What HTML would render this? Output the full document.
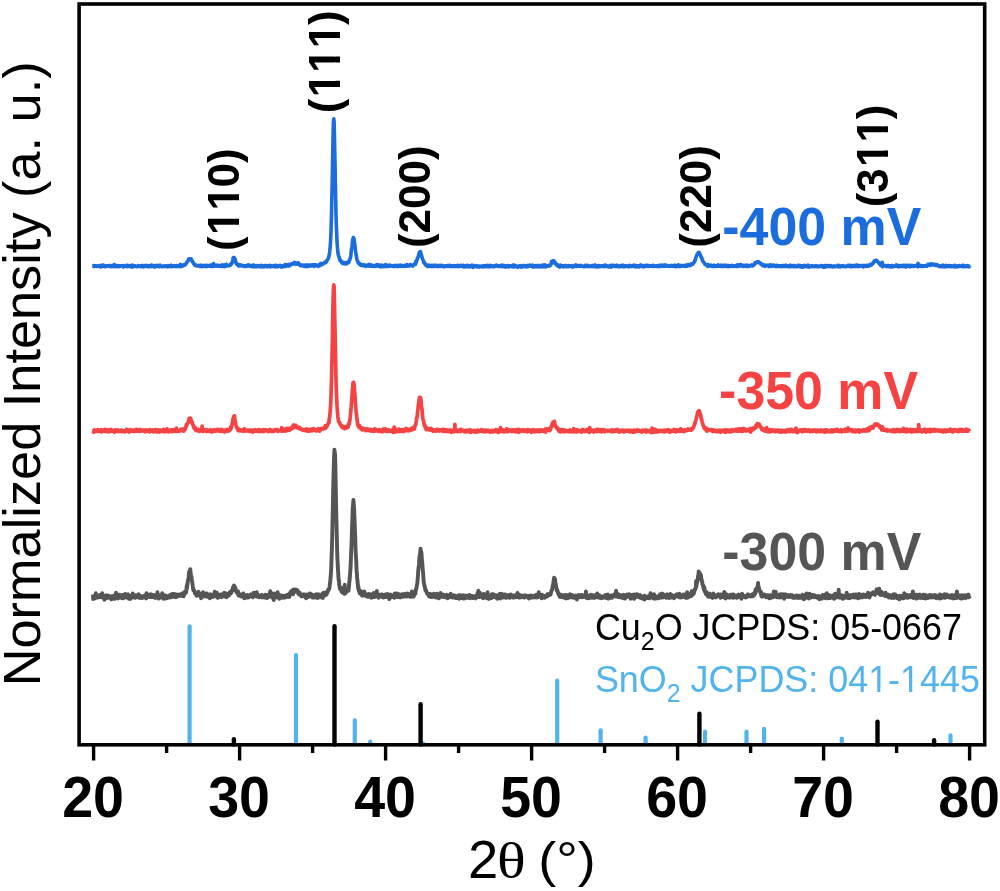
<!DOCTYPE html>
<html><head><meta charset="utf-8"><style>
html,body{margin:0;padding:0;background:#fff;}
svg{display:block;}
svg{font-family:"Liberation Sans",Arial,sans-serif;font-kerning:none;}
</style></head><body>
<svg width="1000" height="891" viewBox="0 0 1000 891">
<rect width="1000" height="891" fill="#fff"/>
<polyline fill="none" stroke="#1b6cdd" stroke-width="3.6" stroke-linejoin="round" points="92.9,265.9 93.2,265.7 93.5,265.9 93.8,266.6 94.2,265.7 94.5,265.9 94.8,266.3 95.1,265.8 95.4,265.9 95.8,265.9 96.1,266.1 96.4,265.8 96.7,266.4 97.0,266.1 97.4,266.2 97.7,265.8 98.0,266.0 98.3,266.1 98.7,266.3 99.0,266.1 99.3,266.0 99.6,266.1 99.9,265.5 100.3,265.6 100.6,267.1 100.9,266.8 101.2,266.1 101.5,266.2 101.9,265.9 102.2,265.9 102.5,265.1 102.8,266.4 103.1,266.1 103.5,265.1 103.8,265.7 104.1,265.7 104.4,266.1 104.8,266.6 105.1,265.9 105.4,265.9 105.7,266.5 106.0,266.2 106.4,266.0 106.7,266.3 107.0,266.0 107.3,265.9 107.6,266.0 108.0,266.2 108.3,265.8 108.6,265.7 108.9,265.9 109.3,266.3 109.6,265.7 109.9,266.2 110.2,265.7 110.5,266.4 110.9,265.6 111.2,266.0 111.5,266.5 111.8,266.1 112.1,265.9 112.5,265.9 112.8,266.4 113.1,266.4 113.4,265.9 113.7,266.2 114.1,264.5 114.4,265.7 114.7,266.7 115.0,265.9 115.4,265.5 115.7,266.1 116.0,266.3 116.3,265.6 116.6,265.9 117.0,265.7 117.3,266.1 117.6,266.6 117.9,266.1 118.2,266.2 118.6,265.7 118.9,265.9 119.2,266.6 119.5,266.5 119.9,265.7 120.2,265.7 120.5,266.0 120.8,266.0 121.1,265.8 121.5,265.9 121.8,265.7 122.1,266.0 122.4,266.1 122.7,266.2 123.1,265.7 123.4,267.0 123.7,266.1 124.0,266.1 124.3,266.7 124.7,265.9 125.0,266.3 125.3,265.7 125.6,266.1 126.0,265.8 126.3,265.6 126.6,265.9 126.9,266.4 127.2,266.7 127.6,265.3 127.9,266.1 128.2,266.4 128.5,266.0 128.8,266.2 129.2,265.7 129.5,266.0 129.8,266.1 130.1,266.4 130.5,265.9 130.8,266.5 131.1,265.8 131.4,265.5 131.7,266.7 132.1,267.1 132.4,265.8 132.7,265.1 133.0,266.5 133.3,266.6 133.7,265.9 134.0,266.4 134.3,266.3 134.6,266.3 134.9,265.9 135.3,266.3 135.6,266.0 135.9,266.2 136.2,266.5 136.6,266.3 136.9,266.5 137.2,266.1 137.5,266.6 137.8,266.6 138.2,265.6 138.5,266.2 138.8,266.2 139.1,265.9 139.4,266.3 139.8,266.2 140.1,266.0 140.4,266.1 140.7,266.6 141.0,265.8 141.4,266.4 141.7,266.6 142.0,266.5 142.3,266.3 142.7,265.5 143.0,266.6 143.3,266.0 143.6,266.9 143.9,266.1 144.3,265.7 144.6,266.2 144.9,266.4 145.2,266.0 145.5,265.8 145.9,265.9 146.2,265.3 146.5,266.1 146.8,266.4 147.2,266.2 147.5,266.2 147.8,266.1 148.1,266.2 148.4,266.1 148.8,266.8 149.1,265.7 149.4,266.4 149.7,266.6 150.0,265.9 150.4,265.6 150.7,265.9 151.0,266.1 151.3,266.5 151.6,265.0 152.0,265.7 152.3,266.5 152.6,266.4 152.9,266.0 153.3,266.7 153.6,266.0 153.9,266.2 154.2,265.6 154.5,265.7 154.9,267.1 155.2,266.0 155.5,266.7 155.8,265.6 156.1,265.6 156.5,265.8 156.8,266.5 157.1,265.3 157.4,265.3 157.8,266.5 158.1,266.0 158.4,266.4 158.7,266.2 159.0,266.6 159.4,265.4 159.7,266.5 160.0,266.2 160.3,265.2 160.6,266.3 161.0,266.2 161.3,266.3 161.6,266.1 161.9,266.6 162.2,266.2 162.6,266.2 162.9,266.2 163.2,266.1 163.5,266.3 163.9,265.9 164.2,266.3 164.5,266.2 164.8,266.4 165.1,266.3 165.5,266.6 165.8,265.9 166.1,266.5 166.4,266.4 166.7,265.9 167.1,265.9 167.4,266.2 167.7,266.8 168.0,265.9 168.4,265.9 168.7,266.5 169.0,265.6 169.3,266.2 169.6,266.4 170.0,265.9 170.3,266.0 170.6,265.9 170.9,266.6 171.2,265.3 171.6,266.2 171.9,266.6 172.2,265.7 172.5,266.1 172.8,265.8 173.2,266.1 173.5,266.0 173.8,265.9 174.1,266.3 174.5,265.7 174.8,266.1 175.1,266.3 175.4,265.9 175.7,265.8 176.1,266.0 176.4,266.2 176.7,265.6 177.0,266.6 177.3,266.2 177.7,265.8 178.0,266.3 178.3,265.7 178.6,265.7 179.0,265.4 179.3,266.1 179.6,266.0 179.9,265.6 180.2,266.7 180.6,264.4 180.9,265.9 181.2,265.9 181.5,265.3 181.8,265.6 182.2,266.3 182.5,265.2 182.8,265.1 183.1,265.5 183.4,265.4 183.8,265.0 184.1,265.4 184.4,264.7 184.7,264.6 185.1,264.8 185.4,264.8 185.7,264.0 186.0,264.0 186.3,262.8 186.7,262.7 187.0,262.0 187.3,261.8 187.6,261.2 187.9,261.2 188.3,260.1 188.6,259.1 188.9,259.5 189.2,259.2 189.6,258.8 189.9,258.8 190.2,258.9 190.5,258.8 190.8,259.2 191.2,259.0 191.5,260.1 191.8,260.4 192.1,260.7 192.4,261.8 192.8,261.6 193.1,262.9 193.4,263.4 193.7,263.7 194.0,263.9 194.4,264.8 194.7,264.5 195.0,265.4 195.3,264.4 195.7,265.1 196.0,265.5 196.3,265.7 196.6,265.6 196.9,265.6 197.3,266.0 197.6,266.0 197.9,265.8 198.2,265.9 198.5,265.4 198.9,265.3 199.2,265.8 199.5,265.6 199.8,266.3 200.2,265.6 200.5,265.8 200.8,265.6 201.1,265.2 201.4,266.7 201.8,265.7 202.1,266.3 202.4,265.6 202.7,266.3 203.0,266.1 203.4,265.8 203.7,265.6 204.0,265.8 204.3,266.2 204.6,266.1 205.0,265.5 205.3,265.9 205.6,266.6 205.9,265.6 206.3,265.7 206.6,265.6 206.9,266.1 207.2,265.6 207.5,266.3 207.9,265.7 208.2,266.1 208.5,265.6 208.8,265.5 209.1,266.2 209.5,265.9 209.8,265.9 210.1,265.4 210.4,265.6 210.8,266.3 211.1,265.7 211.4,265.5 211.7,265.0 212.0,266.5 212.4,266.1 212.7,265.3 213.0,266.4 213.3,266.3 213.6,263.5 214.0,265.4 214.3,266.0 214.6,265.5 214.9,265.7 215.2,265.1 215.6,265.7 215.9,265.3 216.2,266.1 216.5,265.8 216.9,265.7 217.2,265.2 217.5,265.5 217.8,266.0 218.1,265.5 218.5,265.4 218.8,265.8 219.1,265.8 219.4,265.8 219.7,266.4 220.1,265.6 220.4,265.6 220.7,266.0 221.0,265.4 221.3,266.3 221.7,265.9 222.0,265.9 222.3,264.9 222.6,266.4 223.0,265.5 223.3,265.4 223.6,265.6 223.9,265.2 224.2,266.1 224.6,266.6 224.9,264.9 225.2,266.2 225.5,265.8 225.8,266.1 226.2,265.2 226.5,264.4 226.8,266.0 227.1,265.3 227.5,265.6 227.8,265.6 228.1,265.6 228.4,265.6 228.7,265.3 229.1,265.3 229.4,265.5 229.7,264.9 230.0,265.4 230.3,265.0 230.7,264.7 231.0,264.0 231.3,264.4 231.6,263.0 231.9,262.9 232.3,262.3 232.6,261.5 232.9,259.9 233.2,257.5 233.6,258.6 233.9,258.1 234.2,257.7 234.5,258.3 234.8,258.5 235.2,259.5 235.5,260.8 235.8,262.0 236.1,263.2 236.4,263.7 236.8,263.9 237.1,263.8 237.4,264.6 237.7,265.3 238.1,265.3 238.4,265.7 238.7,265.9 239.0,265.6 239.3,264.8 239.7,264.9 240.0,265.7 240.3,265.2 240.6,265.0 240.9,265.7 241.3,265.1 241.6,265.5 241.9,265.9 242.2,265.5 242.5,265.8 242.9,266.0 243.2,266.0 243.5,265.8 243.8,265.7 244.2,266.3 244.5,265.9 244.8,266.5 245.1,265.8 245.4,265.7 245.8,265.8 246.1,265.8 246.4,265.7 246.7,266.2 247.0,266.0 247.4,265.7 247.7,265.5 248.0,265.8 248.3,264.9 248.7,266.0 249.0,265.5 249.3,265.4 249.6,266.0 249.9,266.2 250.3,266.3 250.6,265.8 250.9,265.4 251.2,265.8 251.5,265.8 251.9,266.0 252.2,265.7 252.5,266.8 252.8,265.8 253.1,265.9 253.5,266.5 253.8,265.1 254.1,266.6 254.4,266.5 254.8,266.6 255.1,265.7 255.4,266.5 255.7,265.8 256.0,265.9 256.4,266.1 256.7,266.7 257.0,266.4 257.3,265.5 257.6,266.7 258.0,266.5 258.3,266.2 258.6,265.8 258.9,266.1 259.3,265.9 259.6,265.6 259.9,265.8 260.2,266.0 260.5,266.8 260.9,265.6 261.2,265.3 261.5,266.5 261.8,266.2 262.1,265.6 262.5,266.7 262.8,266.9 263.1,266.7 263.4,266.4 263.7,266.4 264.1,265.9 264.4,266.0 264.7,266.6 265.0,265.9 265.4,265.4 265.7,265.6 266.0,265.7 266.3,266.1 266.6,265.8 267.0,266.6 267.3,265.9 267.6,266.2 267.9,265.7 268.2,266.0 268.6,266.7 268.9,266.2 269.2,265.7 269.5,265.3 269.9,266.4 270.2,266.5 270.5,266.8 270.8,265.8 271.1,265.7 271.5,265.9 271.8,266.1 272.1,266.2 272.4,266.1 272.7,266.4 273.1,265.7 273.4,265.7 273.7,265.7 274.0,266.3 274.3,266.0 274.7,266.2 275.0,265.4 275.3,266.0 275.6,266.8 276.0,265.8 276.3,265.3 276.6,265.7 276.9,265.7 277.2,266.0 277.6,266.8 277.9,266.7 278.2,266.5 278.5,266.0 278.8,265.8 279.2,265.6 279.5,266.0 279.8,265.5 280.1,266.0 280.5,266.2 280.8,265.6 281.1,266.2 281.4,267.0 281.7,266.3 282.1,265.9 282.4,267.1 282.7,266.1 283.0,266.0 283.3,266.4 283.7,266.5 284.0,266.1 284.3,266.1 284.6,265.3 284.9,264.7 285.3,266.5 285.6,266.2 285.9,265.5 286.2,265.0 286.6,265.5 286.9,265.5 287.2,264.8 287.5,265.5 287.8,265.6 288.2,266.0 288.5,265.5 288.8,264.4 289.1,265.8 289.4,265.1 289.8,265.6 290.1,264.9 290.4,264.5 290.7,264.8 291.1,264.3 291.4,264.2 291.7,264.2 292.0,263.5 292.3,263.8 292.7,264.1 293.0,264.1 293.3,264.0 293.6,263.4 293.9,263.6 294.3,262.4 294.6,262.7 294.9,263.5 295.2,263.6 295.5,262.8 295.9,264.3 296.2,263.7 296.5,263.2 296.8,264.1 297.2,264.0 297.5,264.0 297.8,263.8 298.1,264.1 298.4,262.8 298.8,264.2 299.1,264.5 299.4,264.2 299.7,265.1 300.0,265.5 300.4,265.7 300.7,265.8 301.0,265.4 301.3,264.8 301.6,265.3 302.0,265.6 302.3,265.8 302.6,265.7 302.9,265.6 303.3,265.8 303.6,266.1 303.9,265.8 304.2,265.2 304.5,266.5 304.9,265.7 305.2,266.5 305.5,265.6 305.8,266.0 306.1,266.5 306.5,265.6 306.8,264.9 307.1,265.6 307.4,265.2 307.8,265.7 308.1,266.5 308.4,265.4 308.7,265.8 309.0,266.1 309.4,265.2 309.7,265.4 310.0,265.7 310.3,265.2 310.6,265.9 311.0,265.2 311.3,265.8 311.6,265.2 311.9,265.9 312.2,264.9 312.6,265.4 312.9,264.8 313.2,265.7 313.5,265.5 313.9,265.0 314.2,266.4 314.5,265.7 314.8,264.8 315.1,265.0 315.5,264.8 315.8,265.3 316.1,264.9 316.4,265.4 316.7,265.6 317.1,265.8 317.4,265.2 317.7,265.2 318.0,265.1 318.4,266.3 318.7,265.5 319.0,264.9 319.3,264.5 319.6,264.9 320.0,264.9 320.3,265.5 320.6,263.6 320.9,264.8 321.2,263.6 321.6,263.6 321.9,264.0 322.2,264.2 322.5,263.9 322.8,264.3 323.2,263.5 323.5,263.5 323.8,263.2 324.1,262.8 324.5,262.3 324.8,263.0 325.1,262.2 325.4,262.7 325.7,262.5 326.1,262.1 326.4,262.0 326.7,260.8 327.0,260.4 327.3,259.7 327.7,259.7 328.0,258.8 328.3,258.4 328.6,257.7 329.0,255.8 329.3,254.3 329.6,252.9 329.9,249.3 330.2,246.6 330.6,240.8 330.9,234.2 331.2,225.3 331.5,214.4 331.8,199.6 332.2,184.1 332.5,166.3 332.8,149.3 333.1,134.4 333.4,122.3 333.8,118.7 334.1,121.7 334.4,132.6 334.7,149.1 335.1,167.4 335.4,184.6 335.7,200.1 336.0,214.6 336.3,224.9 336.7,233.7 337.0,240.9 337.3,246.0 337.6,249.5 337.9,252.7 338.3,254.8 338.6,255.6 338.9,257.0 339.2,257.4 339.6,259.3 339.9,260.3 340.2,259.7 340.5,260.2 340.8,261.3 341.2,261.9 341.5,261.7 341.8,262.7 342.1,262.4 342.4,263.3 342.8,262.7 343.1,263.6 343.4,263.0 343.7,262.4 344.0,263.2 344.4,262.9 344.7,263.5 345.0,263.6 345.3,263.9 345.7,262.9 346.0,263.3 346.3,262.6 346.6,263.7 346.9,263.3 347.3,263.1 347.6,262.4 347.9,262.1 348.2,262.8 348.5,262.7 348.9,262.5 349.2,260.6 349.5,260.4 349.8,259.6 350.2,258.1 350.5,257.7 350.8,255.5 351.1,252.2 351.4,250.0 351.8,247.6 352.1,245.4 352.4,242.1 352.7,239.2 353.0,239.0 353.4,237.6 353.7,237.9 354.0,238.6 354.3,240.7 354.6,243.2 355.0,246.3 355.3,248.6 355.6,251.5 355.9,253.7 356.3,255.7 356.6,257.2 356.9,259.3 357.2,260.4 357.5,260.8 357.9,262.2 358.2,262.8 358.5,262.8 358.8,263.4 359.1,262.9 359.5,263.9 359.8,264.7 360.1,264.2 360.4,264.0 360.8,264.4 361.1,265.3 361.4,264.6 361.7,265.2 362.0,265.0 362.4,264.9 362.7,265.6 363.0,264.6 363.3,265.2 363.6,264.9 364.0,265.1 364.3,264.9 364.6,265.0 364.9,266.1 365.2,265.5 365.6,266.4 365.9,265.8 366.2,265.4 366.5,265.3 366.9,265.1 367.2,265.9 367.5,265.6 367.8,265.7 368.1,265.2 368.5,265.2 368.8,266.0 369.1,264.3 369.4,265.8 369.7,266.0 370.1,265.0 370.4,265.5 370.7,265.6 371.0,266.1 371.4,265.2 371.7,265.8 372.0,265.2 372.3,265.3 372.6,266.4 373.0,266.3 373.3,266.3 373.6,265.8 373.9,265.9 374.2,265.8 374.6,266.3 374.9,265.7 375.2,265.3 375.5,266.4 375.8,266.0 376.2,265.8 376.5,265.9 376.8,266.0 377.1,264.5 377.5,265.4 377.8,265.6 378.1,266.2 378.4,265.1 378.7,265.8 379.1,266.2 379.4,266.1 379.7,266.2 380.0,265.1 380.3,265.9 380.7,266.0 381.0,266.8 381.3,265.7 381.6,266.4 381.9,266.4 382.3,265.2 382.6,266.3 382.9,265.6 383.2,265.5 383.6,266.6 383.9,266.0 384.2,266.5 384.5,265.9 384.8,265.5 385.2,266.4 385.5,264.5 385.8,265.9 386.1,266.3 386.4,265.9 386.8,265.6 387.1,266.5 387.4,265.9 387.7,266.4 388.1,265.4 388.4,265.8 388.7,266.0 389.0,265.4 389.3,266.4 389.7,266.0 390.0,265.1 390.3,265.9 390.6,265.3 390.9,265.8 391.3,266.1 391.6,265.9 391.9,265.8 392.2,266.0 392.5,266.1 392.9,266.1 393.2,266.4 393.5,265.7 393.8,265.6 394.2,265.5 394.5,266.5 394.8,265.5 395.1,265.8 395.4,266.4 395.8,265.8 396.1,265.5 396.4,265.6 396.7,265.6 397.0,265.4 397.4,265.4 397.7,265.8 398.0,266.6 398.3,266.1 398.7,265.7 399.0,266.0 399.3,265.6 399.6,265.5 399.9,265.8 400.3,265.1 400.6,266.3 400.9,265.5 401.2,266.0 401.5,266.2 401.9,265.6 402.2,266.1 402.5,265.5 402.8,266.4 403.1,265.9 403.5,266.2 403.8,265.9 404.1,266.0 404.4,266.3 404.8,265.5 405.1,266.3 405.4,266.2 405.7,265.4 406.0,265.3 406.4,265.4 406.7,265.5 407.0,264.7 407.3,266.1 407.6,265.9 408.0,266.0 408.3,265.2 408.6,265.5 408.9,265.2 409.3,265.2 409.6,265.7 409.9,265.9 410.2,265.9 410.5,264.6 410.9,265.1 411.2,265.2 411.5,265.5 411.8,265.4 412.1,265.5 412.5,265.4 412.8,266.1 413.1,265.1 413.4,265.1 413.7,264.7 414.1,264.6 414.4,264.1 414.7,264.2 415.0,263.5 415.4,264.5 415.7,263.4 416.0,261.1 416.3,262.2 416.6,261.1 417.0,259.8 417.3,259.5 417.6,257.7 417.9,257.5 418.2,256.6 418.6,255.3 418.9,254.4 419.2,252.9 419.5,252.4 419.9,251.9 420.2,252.6 420.5,251.5 420.8,253.3 421.1,254.3 421.5,255.1 421.8,256.5 422.1,257.8 422.4,258.6 422.7,259.2 423.1,260.2 423.4,260.9 423.7,262.3 424.0,263.0 424.3,262.4 424.7,263.8 425.0,263.9 425.3,264.0 425.6,264.0 426.0,265.4 426.3,265.2 426.6,265.3 426.9,265.4 427.2,266.3 427.6,265.4 427.9,266.6 428.2,265.3 428.5,265.3 428.8,265.3 429.2,266.1 429.5,265.3 429.8,266.0 430.1,266.2 430.5,266.1 430.8,266.1 431.1,265.7 431.4,265.5 431.7,266.6 432.1,266.0 432.4,265.5 432.7,265.8 433.0,265.7 433.3,266.5 433.7,265.5 434.0,266.5 434.3,265.8 434.6,265.3 434.9,265.2 435.3,265.7 435.6,265.6 435.9,266.1 436.2,266.1 436.6,265.5 436.9,265.9 437.2,266.0 437.5,266.5 437.8,265.9 438.2,265.7 438.5,266.3 438.8,266.2 439.1,265.4 439.4,265.9 439.8,266.1 440.1,266.4 440.4,266.2 440.7,266.1 441.1,265.5 441.4,266.2 441.7,265.3 442.0,266.4 442.3,266.2 442.7,265.8 443.0,266.2 443.3,266.4 443.6,266.2 443.9,265.9 444.3,266.8 444.6,266.3 444.9,266.2 445.2,266.3 445.5,265.8 445.9,266.3 446.2,266.2 446.5,266.0 446.8,265.8 447.2,266.2 447.5,265.5 447.8,266.5 448.1,265.6 448.4,266.4 448.8,266.2 449.1,265.9 449.4,265.3 449.7,265.7 450.0,266.2 450.4,265.6 450.7,266.2 451.0,266.5 451.3,266.0 451.7,266.1 452.0,265.8 452.3,266.4 452.6,266.0 452.9,265.9 453.3,266.0 453.6,266.1 453.9,266.4 454.2,265.7 454.5,265.8 454.9,265.9 455.2,266.3 455.5,266.1 455.8,266.5 456.1,266.0 456.5,265.8 456.8,266.1 457.1,265.7 457.4,266.0 457.8,265.5 458.1,266.1 458.4,266.7 458.7,265.9 459.0,266.1 459.4,266.4 459.7,265.7 460.0,265.9 460.3,265.6 460.6,266.2 461.0,266.0 461.3,266.0 461.6,265.4 461.9,266.3 462.2,266.0 462.6,265.9 462.9,266.7 463.2,266.7 463.5,265.2 463.9,266.8 464.2,265.8 464.5,266.4 464.8,266.4 465.1,266.9 465.5,266.5 465.8,265.8 466.1,266.7 466.4,265.9 466.7,266.0 467.1,265.3 467.4,266.3 467.7,265.6 468.0,265.7 468.4,266.3 468.7,266.9 469.0,265.6 469.3,266.8 469.6,266.4 470.0,265.9 470.3,265.8 470.6,266.6 470.9,266.2 471.2,266.3 471.6,265.8 471.9,265.2 472.2,266.4 472.5,265.9 472.8,267.4 473.2,266.3 473.5,266.7 473.8,265.5 474.1,266.3 474.5,266.6 474.8,266.5 475.1,266.5 475.4,266.3 475.7,266.4 476.1,266.1 476.4,265.7 476.7,266.1 477.0,266.9 477.3,267.0 477.7,266.7 478.0,266.0 478.3,266.5 478.6,266.7 479.0,266.4 479.3,267.0 479.6,266.9 479.9,266.2 480.2,266.5 480.6,266.5 480.9,266.2 481.2,266.6 481.5,266.6 481.8,266.5 482.2,266.1 482.5,266.3 482.8,266.8 483.1,266.4 483.4,266.0 483.8,265.6 484.1,266.8 484.4,266.2 484.7,266.4 485.1,266.0 485.4,266.1 485.7,265.7 486.0,266.1 486.3,266.6 486.7,266.6 487.0,266.1 487.3,266.1 487.6,265.3 487.9,265.5 488.3,266.6 488.6,266.0 488.9,266.7 489.2,266.8 489.6,265.8 489.9,265.9 490.2,266.5 490.5,265.4 490.8,266.5 491.2,266.6 491.5,265.8 491.8,266.0 492.1,266.2 492.4,266.1 492.8,266.0 493.1,266.1 493.4,266.1 493.7,266.8 494.0,266.6 494.4,265.8 494.7,266.3 495.0,265.8 495.3,265.6 495.7,266.2 496.0,265.9 496.3,265.2 496.6,265.7 496.9,265.3 497.3,265.4 497.6,265.7 497.9,266.1 498.2,266.4 498.5,266.5 498.9,265.9 499.2,265.9 499.5,266.2 499.8,265.8 500.2,266.4 500.5,265.7 500.8,266.1 501.1,266.2 501.4,266.2 501.8,266.2 502.1,265.2 502.4,266.8 502.7,266.1 503.0,265.7 503.4,265.9 503.7,266.3 504.0,265.4 504.3,266.6 504.6,266.7 505.0,265.9 505.3,266.7 505.6,267.1 505.9,265.8 506.3,265.8 506.6,265.9 506.9,266.4 507.2,266.1 507.5,266.6 507.9,265.5 508.2,265.9 508.5,265.9 508.8,267.0 509.1,265.9 509.5,265.7 509.8,265.8 510.1,266.0 510.4,266.3 510.8,266.4 511.1,266.1 511.4,266.2 511.7,266.2 512.0,266.5 512.4,265.7 512.7,266.8 513.0,266.3 513.3,266.5 513.6,265.0 514.0,265.7 514.3,265.8 514.6,266.0 514.9,266.9 515.2,265.5 515.6,266.1 515.9,266.4 516.2,266.3 516.5,266.4 516.9,266.1 517.2,266.2 517.5,266.4 517.8,267.3 518.1,266.3 518.5,266.1 518.8,266.1 519.1,266.3 519.4,266.0 519.7,265.8 520.1,266.4 520.4,265.6 520.7,267.0 521.0,266.7 521.4,266.6 521.7,267.1 522.0,266.6 522.3,265.7 522.6,265.6 523.0,266.1 523.3,265.5 523.6,266.0 523.9,266.4 524.2,266.1 524.6,266.2 524.9,265.9 525.2,266.7 525.5,265.7 525.8,266.3 526.2,265.8 526.5,266.8 526.8,266.3 527.1,266.1 527.5,265.7 527.8,266.6 528.1,265.4 528.4,265.9 528.7,266.3 529.1,265.6 529.4,266.0 529.7,265.6 530.0,265.1 530.3,265.7 530.7,266.2 531.0,266.1 531.3,265.8 531.6,265.9 532.0,266.4 532.3,266.3 532.6,265.8 532.9,265.1 533.2,267.1 533.6,265.8 533.9,266.1 534.2,265.7 534.5,265.7 534.8,266.0 535.2,266.4 535.5,266.6 535.8,266.8 536.1,265.6 536.4,266.1 536.8,266.2 537.1,266.1 537.4,266.6 537.7,265.9 538.1,265.5 538.4,265.5 538.7,266.6 539.0,265.4 539.3,266.3 539.7,266.8 540.0,266.5 540.3,266.4 540.6,266.1 540.9,266.5 541.3,266.7 541.6,266.2 541.9,265.3 542.2,266.3 542.5,265.9 542.9,266.0 543.2,265.0 543.5,266.8 543.8,265.6 544.2,266.6 544.5,266.3 544.8,265.5 545.1,264.8 545.4,266.3 545.8,266.8 546.1,265.5 546.4,266.4 546.7,266.1 547.0,266.0 547.4,265.9 547.7,266.0 548.0,265.8 548.3,265.7 548.7,265.4 549.0,265.9 549.3,266.0 549.6,266.0 549.9,265.2 550.3,265.3 550.6,264.8 550.9,264.4 551.2,263.6 551.5,261.4 551.9,263.0 552.2,263.3 552.5,262.7 552.8,261.8 553.1,261.7 553.5,260.6 553.8,261.3 554.1,260.9 554.4,262.2 554.8,262.1 555.1,262.3 555.4,262.9 555.7,264.1 556.0,263.8 556.4,264.0 556.7,264.5 557.0,265.4 557.3,265.6 557.6,266.0 558.0,265.4 558.3,265.2 558.6,266.1 558.9,266.6 559.3,265.9 559.6,265.6 559.9,267.1 560.2,266.0 560.5,265.2 560.9,265.7 561.2,265.9 561.5,265.9 561.8,265.7 562.1,266.5 562.5,266.4 562.8,265.9 563.1,266.4 563.4,266.0 563.7,266.8 564.1,265.8 564.4,265.8 564.7,266.1 565.0,266.0 565.4,265.5 565.7,266.5 566.0,266.5 566.3,266.6 566.6,266.4 567.0,266.6 567.3,266.2 567.6,266.5 567.9,266.8 568.2,266.8 568.6,265.7 568.9,266.2 569.2,266.3 569.5,266.2 569.9,266.2 570.2,265.9 570.5,266.0 570.8,266.4 571.1,266.5 571.5,266.6 571.8,266.7 572.1,265.6 572.4,266.6 572.7,267.0 573.1,266.5 573.4,266.5 573.7,266.1 574.0,266.5 574.3,266.0 574.7,266.0 575.0,265.7 575.3,265.3 575.6,265.0 576.0,265.6 576.3,266.6 576.6,266.3 576.9,266.0 577.2,265.3 577.6,265.9 577.9,265.7 578.2,266.2 578.5,265.9 578.8,265.8 579.2,266.3 579.5,265.8 579.8,265.7 580.1,266.2 580.5,265.7 580.8,265.4 581.1,266.1 581.4,266.1 581.7,266.2 582.1,266.3 582.4,266.1 582.7,266.3 583.0,266.3 583.3,266.4 583.7,266.7 584.0,266.5 584.3,266.0 584.6,266.6 584.9,266.3 585.3,265.4 585.6,265.6 585.9,266.3 586.2,265.9 586.6,266.3 586.9,265.4 587.2,266.3 587.5,266.1 587.8,265.5 588.2,266.4 588.5,265.6 588.8,266.5 589.1,266.0 589.4,266.3 589.8,266.2 590.1,266.1 590.4,266.1 590.7,266.5 591.1,265.8 591.4,265.8 591.7,265.5 592.0,265.5 592.3,266.6 592.7,265.5 593.0,265.5 593.3,266.3 593.6,265.6 593.9,265.5 594.3,266.3 594.6,266.6 594.9,266.2 595.2,265.0 595.5,266.0 595.9,266.6 596.2,266.2 596.5,266.5 596.8,266.3 597.2,266.1 597.5,267.1 597.8,266.0 598.1,265.6 598.4,266.2 598.8,266.3 599.1,265.7 599.4,266.6 599.7,266.6 600.0,266.7 600.4,266.2 600.7,266.0 601.0,266.2 601.3,265.9 601.7,265.8 602.0,265.9 602.3,266.4 602.6,266.2 602.9,265.6 603.3,266.5 603.6,266.2 603.9,266.3 604.2,266.2 604.5,266.5 604.9,266.6 605.2,265.1 605.5,265.7 605.8,266.4 606.1,266.1 606.5,265.8 606.8,266.2 607.1,265.8 607.4,266.3 607.8,266.2 608.1,266.0 608.4,266.2 608.7,267.0 609.0,266.0 609.4,265.9 609.7,265.9 610.0,266.5 610.3,265.9 610.6,265.5 611.0,266.8 611.3,267.0 611.6,265.9 611.9,266.5 612.3,265.4 612.6,265.2 612.9,266.3 613.2,266.3 613.5,266.1 613.9,265.8 614.2,266.5 614.5,265.6 614.8,265.7 615.1,265.8 615.5,266.3 615.8,265.7 616.1,265.7 616.4,266.5 616.7,265.2 617.1,266.2 617.4,265.9 617.7,266.3 618.0,266.0 618.4,265.7 618.7,266.5 619.0,266.8 619.3,266.3 619.6,266.6 620.0,266.5 620.3,266.2 620.6,266.2 620.9,265.7 621.2,266.6 621.6,266.1 621.9,266.4 622.2,265.6 622.5,265.2 622.8,266.0 623.2,265.5 623.5,265.9 623.8,266.8 624.1,266.7 624.5,266.8 624.8,266.5 625.1,266.2 625.4,265.7 625.7,265.9 626.1,266.0 626.4,266.3 626.7,265.8 627.0,266.1 627.3,266.1 627.7,266.0 628.0,266.0 628.3,266.2 628.6,266.9 629.0,266.6 629.3,266.5 629.6,265.4 629.9,266.3 630.2,265.9 630.6,265.6 630.9,266.0 631.2,266.3 631.5,266.3 631.8,266.6 632.2,266.0 632.5,265.7 632.8,265.9 633.1,265.8 633.4,265.8 633.8,265.2 634.1,266.3 634.4,266.0 634.7,265.8 635.1,265.5 635.4,267.0 635.7,266.2 636.0,266.1 636.3,266.4 636.7,265.7 637.0,265.9 637.3,266.2 637.6,266.7 637.9,266.5 638.3,266.4 638.6,265.8 638.9,266.5 639.2,266.8 639.6,266.6 639.9,266.2 640.2,265.2 640.5,264.9 640.8,266.1 641.2,265.6 641.5,265.4 641.8,265.5 642.1,266.0 642.4,266.5 642.8,266.2 643.1,266.7 643.4,265.9 643.7,265.7 644.0,266.8 644.4,266.0 644.7,265.9 645.0,265.5 645.3,265.4 645.7,265.7 646.0,266.3 646.3,266.2 646.6,265.6 646.9,266.2 647.3,266.0 647.6,265.4 647.9,265.9 648.2,266.5 648.5,266.1 648.9,265.8 649.2,266.1 649.5,265.5 649.8,265.5 650.2,266.2 650.5,266.2 650.8,266.0 651.1,266.4 651.4,265.8 651.8,266.0 652.1,265.7 652.4,266.3 652.7,266.4 653.0,265.3 653.4,266.4 653.7,266.3 654.0,266.3 654.3,266.2 654.6,266.4 655.0,266.1 655.3,266.3 655.6,266.2 655.9,265.9 656.3,265.8 656.6,265.8 656.9,266.3 657.2,265.8 657.5,266.0 657.9,266.0 658.2,266.7 658.5,265.7 658.8,266.0 659.1,265.3 659.5,265.8 659.8,266.5 660.1,265.9 660.4,265.5 660.8,266.3 661.1,265.7 661.4,266.1 661.7,265.2 662.0,266.0 662.4,265.4 662.7,265.5 663.0,266.2 663.3,266.1 663.6,265.4 664.0,266.0 664.3,266.3 664.6,265.5 664.9,265.0 665.2,266.0 665.6,265.4 665.9,266.0 666.2,265.4 666.5,266.1 666.9,265.4 667.2,265.7 667.5,266.0 667.8,265.8 668.1,266.1 668.5,266.4 668.8,266.3 669.1,266.0 669.4,266.4 669.7,265.8 670.1,265.8 670.4,265.8 670.7,266.1 671.0,265.9 671.4,266.0 671.7,265.4 672.0,266.3 672.3,266.0 672.6,266.0 673.0,265.9 673.3,266.2 673.6,266.2 673.9,265.5 674.2,266.1 674.6,265.5 674.9,265.1 675.2,265.4 675.5,266.6 675.8,265.7 676.2,265.8 676.5,265.7 676.8,266.6 677.1,265.6 677.5,266.3 677.8,265.4 678.1,265.5 678.4,264.8 678.7,266.0 679.1,266.5 679.4,265.5 679.7,265.5 680.0,266.0 680.3,265.3 680.7,265.5 681.0,266.3 681.3,265.9 681.6,266.0 682.0,265.8 682.3,265.6 682.6,266.0 682.9,265.8 683.2,265.5 683.6,265.8 683.9,265.8 684.2,265.8 684.5,265.7 684.8,266.4 685.2,265.6 685.5,266.0 685.8,265.6 686.1,266.2 686.4,265.2 686.8,265.5 687.1,266.1 687.4,265.4 687.7,265.8 688.1,264.7 688.4,265.2 688.7,265.7 689.0,265.2 689.3,265.3 689.7,264.7 690.0,265.0 690.3,264.8 690.6,265.4 690.9,264.5 691.3,263.9 691.6,264.3 691.9,264.4 692.2,264.1 692.6,264.3 692.9,263.6 693.2,263.8 693.5,262.9 693.8,262.6 694.2,262.3 694.5,261.2 694.8,261.4 695.1,260.1 695.4,259.8 695.8,257.7 696.1,256.8 696.4,256.4 696.7,255.1 697.0,254.8 697.4,254.1 697.7,253.9 698.0,253.5 698.3,252.7 698.7,252.8 699.0,252.8 699.3,252.5 699.6,253.4 699.9,254.6 700.3,254.8 700.6,255.8 700.9,256.4 701.2,257.6 701.5,257.5 701.9,258.1 702.2,260.1 702.5,260.1 702.8,260.8 703.1,262.1 703.5,262.2 703.8,262.2 704.1,262.8 704.4,262.9 704.8,264.3 705.1,264.5 705.4,264.2 705.7,264.4 706.0,264.7 706.4,265.0 706.7,265.2 707.0,265.3 707.3,265.0 707.6,266.3 708.0,264.6 708.3,265.6 708.6,266.0 708.9,265.2 709.3,266.1 709.6,265.4 709.9,265.8 710.2,265.4 710.5,265.4 710.9,265.2 711.2,266.0 711.5,265.9 711.8,265.8 712.1,266.4 712.5,265.6 712.8,265.8 713.1,266.4 713.4,265.5 713.7,265.4 714.1,266.4 714.4,265.7 714.7,265.4 715.0,265.6 715.4,266.4 715.7,266.5 716.0,266.0 716.3,266.1 716.6,265.9 717.0,266.0 717.3,265.8 717.6,266.2 717.9,266.1 718.2,264.8 718.6,266.1 718.9,265.7 719.2,265.9 719.5,265.9 719.9,266.3 720.2,265.8 720.5,266.0 720.8,265.7 721.1,265.2 721.5,266.0 721.8,265.7 722.1,266.5 722.4,266.0 722.7,265.4 723.1,266.1 723.4,266.3 723.7,265.9 724.0,266.1 724.3,266.1 724.7,266.1 725.0,265.2 725.3,266.4 725.6,266.2 726.0,266.2 726.3,265.5 726.6,266.1 726.9,265.5 727.2,266.0 727.6,266.1 727.9,266.6 728.2,265.5 728.5,265.8 728.8,265.8 729.2,265.9 729.5,266.1 729.8,266.5 730.1,265.6 730.5,265.9 730.8,266.1 731.1,266.2 731.4,265.9 731.7,266.0 732.1,265.3 732.4,265.6 732.7,266.1 733.0,266.4 733.3,266.0 733.7,266.3 734.0,265.9 734.3,265.8 734.6,265.7 734.9,265.8 735.3,266.0 735.6,265.7 735.9,266.3 736.2,266.0 736.6,265.6 736.9,265.7 737.2,266.4 737.5,264.8 737.8,266.5 738.2,265.2 738.5,266.5 738.8,265.9 739.1,265.1 739.4,265.1 739.8,265.3 740.1,266.0 740.4,265.5 740.7,264.5 741.1,265.8 741.4,265.6 741.7,265.9 742.0,265.8 742.3,265.6 742.7,265.3 743.0,266.2 743.3,266.4 743.6,265.8 743.9,265.8 744.3,265.3 744.6,265.5 744.9,266.1 745.2,265.6 745.5,265.3 745.9,265.6 746.2,265.9 746.5,265.5 746.8,265.9 747.2,266.5 747.5,265.2 747.8,266.3 748.1,265.9 748.4,265.9 748.8,265.9 749.1,265.8 749.4,266.3 749.7,265.5 750.0,265.7 750.4,265.7 750.7,265.2 751.0,265.2 751.3,265.1 751.7,264.8 752.0,265.3 752.3,266.0 752.6,265.2 752.9,265.2 753.3,265.0 753.6,265.1 753.9,265.1 754.2,264.2 754.5,263.9 754.9,263.8 755.2,262.5 755.5,263.4 755.8,263.2 756.1,262.4 756.5,262.4 756.8,262.3 757.1,261.8 757.4,262.5 757.8,261.8 758.1,261.8 758.4,262.3 758.7,261.8 759.0,262.1 759.4,262.7 759.7,262.9 760.0,262.8 760.3,263.0 760.6,264.0 761.0,263.9 761.3,263.9 761.6,264.6 761.9,265.1 762.3,265.2 762.6,265.2 762.9,265.7 763.2,264.6 763.5,265.7 763.9,265.4 764.2,265.6 764.5,265.4 764.8,265.9 765.1,266.3 765.5,265.1 765.8,265.8 766.1,265.7 766.4,265.7 766.7,265.3 767.1,265.5 767.4,265.3 767.7,265.5 768.0,265.8 768.4,265.7 768.7,266.2 769.0,266.6 769.3,265.9 769.6,266.3 770.0,264.8 770.3,265.2 770.6,265.3 770.9,266.1 771.2,265.0 771.6,266.5 771.9,266.3 772.2,266.1 772.5,266.2 772.9,265.7 773.2,265.7 773.5,265.0 773.8,265.4 774.1,265.3 774.5,265.6 774.8,265.8 775.1,266.1 775.4,266.4 775.7,266.1 776.1,265.9 776.4,265.5 776.7,266.5 777.0,266.4 777.3,265.7 777.7,266.3 778.0,265.7 778.3,266.0 778.6,266.2 779.0,266.4 779.3,266.0 779.6,266.2 779.9,266.2 780.2,266.2 780.6,265.8 780.9,265.8 781.2,266.6 781.5,266.1 781.8,265.8 782.2,265.5 782.5,265.6 782.8,265.8 783.1,266.4 783.4,266.3 783.8,265.6 784.1,266.3 784.4,265.6 784.7,265.5 785.1,266.5 785.4,265.9 785.7,266.1 786.0,265.3 786.3,265.7 786.7,266.2 787.0,265.9 787.3,266.4 787.6,266.1 787.9,265.9 788.3,266.0 788.6,265.9 788.9,266.4 789.2,266.8 789.6,266.1 789.9,266.3 790.2,266.2 790.5,265.2 790.8,265.5 791.2,266.1 791.5,266.6 791.8,266.6 792.1,265.9 792.4,265.6 792.8,266.2 793.1,266.1 793.4,266.0 793.7,265.7 794.0,266.8 794.4,266.0 794.7,265.9 795.0,265.7 795.3,266.0 795.7,266.6 796.0,266.4 796.3,266.7 796.6,266.0 796.9,266.0 797.3,265.9 797.6,266.5 797.9,266.5 798.2,265.4 798.5,266.0 798.9,265.3 799.2,265.9 799.5,266.6 799.8,265.7 800.2,265.6 800.5,266.2 800.8,266.8 801.1,265.8 801.4,266.1 801.8,265.9 802.1,267.2 802.4,265.9 802.7,267.2 803.0,266.4 803.4,265.8 803.7,266.8 804.0,266.8 804.3,266.3 804.6,265.4 805.0,265.5 805.3,266.4 805.6,265.8 805.9,266.0 806.3,266.1 806.6,266.0 806.9,266.5 807.2,265.9 807.5,265.7 807.9,265.1 808.2,265.8 808.5,267.1 808.8,266.7 809.1,266.0 809.5,266.2 809.8,266.9 810.1,266.2 810.4,266.4 810.8,266.2 811.1,266.3 811.4,265.9 811.7,265.6 812.0,266.0 812.4,266.7 812.7,266.6 813.0,266.5 813.3,266.3 813.6,266.4 814.0,266.4 814.3,266.6 814.6,265.9 814.9,265.9 815.2,265.8 815.6,266.2 815.9,266.0 816.2,266.6 816.5,266.6 816.9,266.5 817.2,266.0 817.5,266.3 817.8,266.7 818.1,266.2 818.5,266.1 818.8,266.2 819.1,266.5 819.4,266.2 819.7,266.4 820.1,266.4 820.4,266.2 820.7,265.9 821.0,265.5 821.4,265.6 821.7,266.0 822.0,266.4 822.3,266.3 822.6,266.3 823.0,265.8 823.3,267.3 823.6,266.1 823.9,267.0 824.2,266.2 824.6,265.6 824.9,266.5 825.2,267.1 825.5,265.7 825.8,265.6 826.2,266.1 826.5,265.7 826.8,266.6 827.1,265.8 827.5,265.6 827.8,266.0 828.1,266.2 828.4,265.8 828.7,265.8 829.1,266.6 829.4,265.7 829.7,266.0 830.0,266.2 830.3,265.7 830.7,265.9 831.0,266.0 831.3,266.5 831.6,266.0 832.0,266.7 832.3,266.3 832.6,266.9 832.9,266.9 833.2,266.0 833.6,266.3 833.9,266.2 834.2,266.0 834.5,266.1 834.8,266.6 835.2,266.2 835.5,266.2 835.8,266.4 836.1,266.2 836.4,266.3 836.8,266.5 837.1,266.3 837.4,266.2 837.7,265.4 838.1,266.6 838.4,266.0 838.7,266.8 839.0,265.6 839.3,266.4 839.7,266.2 840.0,265.7 840.3,265.9 840.6,266.8 840.9,266.0 841.3,266.3 841.6,266.0 841.9,266.1 842.2,265.9 842.6,266.1 842.9,266.3 843.2,265.7 843.5,266.7 843.8,266.3 844.2,266.5 844.5,266.2 844.8,266.3 845.1,266.2 845.4,266.3 845.8,266.2 846.1,266.7 846.4,266.0 846.7,265.9 847.0,266.3 847.4,266.3 847.7,266.2 848.0,265.3 848.3,265.9 848.7,265.8 849.0,266.1 849.3,266.2 849.6,266.3 849.9,265.3 850.3,266.6 850.6,265.8 850.9,265.9 851.2,266.1 851.5,266.6 851.9,266.3 852.2,265.6 852.5,266.2 852.8,265.6 853.2,265.7 853.5,265.7 853.8,265.7 854.1,266.5 854.4,266.2 854.8,265.7 855.1,266.5 855.4,265.3 855.7,266.2 856.0,266.0 856.4,266.4 856.7,265.0 857.0,266.2 857.3,266.0 857.6,266.3 858.0,265.4 858.3,266.5 858.6,265.7 858.9,265.8 859.3,265.7 859.6,266.3 859.9,265.5 860.2,265.5 860.5,265.8 860.9,265.7 861.2,265.9 861.5,265.6 861.8,266.2 862.1,265.6 862.5,265.7 862.8,266.4 863.1,266.9 863.4,265.9 863.7,265.9 864.1,265.4 864.4,265.8 864.7,266.0 865.0,266.4 865.4,265.9 865.7,266.0 866.0,266.2 866.3,265.8 866.6,265.3 867.0,265.7 867.3,266.1 867.6,265.5 867.9,266.0 868.2,266.2 868.6,265.3 868.9,265.7 869.2,265.0 869.5,265.2 869.9,265.6 870.2,265.1 870.5,264.4 870.8,264.9 871.1,265.1 871.5,264.7 871.8,264.6 872.1,264.5 872.4,264.3 872.7,263.3 873.1,262.7 873.4,262.9 873.7,262.1 874.0,261.7 874.3,260.8 874.7,261.5 875.0,261.3 875.3,260.7 875.6,260.7 876.0,260.5 876.3,260.1 876.6,260.9 876.9,260.8 877.2,261.5 877.6,261.5 877.9,262.0 878.2,262.4 878.5,262.5 878.8,263.0 879.2,263.0 879.5,263.2 879.8,264.4 880.1,263.7 880.5,265.3 880.8,264.5 881.1,264.5 881.4,265.3 881.7,265.2 882.1,262.3 882.4,265.1 882.7,266.8 883.0,266.0 883.3,266.4 883.7,265.6 884.0,265.3 884.3,265.4 884.6,265.6 884.9,265.8 885.3,265.8 885.6,265.5 885.9,265.7 886.2,266.4 886.6,266.6 886.9,266.3 887.2,265.7 887.5,265.6 887.8,265.5 888.2,266.4 888.5,266.3 888.8,265.6 889.1,266.1 889.4,265.9 889.8,266.8 890.1,266.4 890.4,266.2 890.7,266.3 891.1,266.4 891.4,266.8 891.7,265.6 892.0,266.1 892.3,266.8 892.7,265.8 893.0,266.2 893.3,265.9 893.6,266.3 893.9,266.5 894.3,266.5 894.6,266.1 894.9,265.9 895.2,266.0 895.5,265.9 895.9,265.7 896.2,266.1 896.5,264.9 896.8,265.8 897.2,266.1 897.5,266.2 897.8,266.4 898.1,266.7 898.4,266.8 898.8,265.7 899.1,266.2 899.4,266.4 899.7,265.6 900.0,265.8 900.4,266.2 900.7,265.8 901.0,266.3 901.3,266.1 901.7,265.5 902.0,265.8 902.3,266.4 902.6,265.9 902.9,265.7 903.3,266.2 903.6,266.3 903.9,265.4 904.2,266.3 904.5,266.7 904.9,266.1 905.2,265.3 905.5,265.9 905.8,265.8 906.1,267.0 906.5,266.4 906.8,265.6 907.1,266.2 907.4,265.5 907.8,265.8 908.1,265.8 908.4,265.3 908.7,266.2 909.0,266.2 909.4,266.0 909.7,265.7 910.0,266.7 910.3,265.5 910.6,265.9 911.0,266.0 911.3,265.8 911.6,266.1 911.9,265.5 912.3,266.0 912.6,265.7 912.9,266.4 913.2,266.1 913.5,265.9 913.9,266.4 914.2,266.3 914.5,266.1 914.8,265.6 915.1,265.8 915.5,265.7 915.8,265.9 916.1,265.7 916.4,265.4 916.7,266.0 917.1,265.9 917.4,265.8 917.7,266.8 918.0,263.4 918.4,265.8 918.7,265.7 919.0,266.2 919.3,265.6 919.6,266.2 920.0,266.0 920.3,265.3 920.6,266.5 920.9,266.0 921.2,266.0 921.6,266.0 921.9,266.2 922.2,265.7 922.5,266.4 922.9,266.5 923.2,265.8 923.5,266.4 923.8,265.8 924.1,265.9 924.5,266.1 924.8,265.9 925.1,265.8 925.4,265.6 925.7,266.0 926.1,265.7 926.4,266.2 926.7,265.6 927.0,266.2 927.3,265.4 927.7,265.5 928.0,264.4 928.3,264.6 928.6,265.0 929.0,264.4 929.3,264.6 929.6,265.1 929.9,265.5 930.2,264.0 930.6,264.2 930.9,265.1 931.2,264.0 931.5,263.9 931.8,264.5 932.2,263.9 932.5,265.0 932.8,264.4 933.1,264.4 933.5,264.2 933.8,264.4 934.1,264.6 934.4,264.6 934.7,265.2 935.1,264.4 935.4,265.3 935.7,264.9 936.0,265.3 936.3,265.5 936.7,265.3 937.0,265.4 937.3,264.7 937.6,265.2 937.9,265.9 938.3,265.6 938.6,265.8 938.9,266.2 939.2,266.4 939.6,265.8 939.9,266.2 940.2,266.5 940.5,266.0 940.8,265.9 941.2,266.0 941.5,266.5 941.8,266.2 942.1,265.5 942.4,266.3 942.8,266.2 943.1,265.2 943.4,265.9 943.7,266.3 944.0,266.9 944.4,265.9 944.7,266.6 945.0,266.0 945.3,266.4 945.7,266.8 946.0,265.4 946.3,266.1 946.6,265.7 946.9,265.8 947.3,266.4 947.6,266.1 947.9,266.2 948.2,265.7 948.5,265.9 948.9,266.3 949.2,265.5 949.5,265.9 949.8,266.0 950.2,266.4 950.5,265.9 950.8,266.7 951.1,265.9 951.4,266.5 951.8,266.1 952.1,266.3 952.4,266.1 952.7,266.0 953.0,266.2 953.4,266.2 953.7,266.8 954.0,266.7 954.3,265.7 954.6,266.0 955.0,266.8 955.3,265.4 955.6,266.5 955.9,266.0 956.3,266.0 956.6,266.2 956.9,266.0 957.2,266.8 957.5,266.2 957.9,266.3 958.2,266.1 958.5,266.2 958.8,266.4 959.1,266.4 959.5,265.7 959.8,266.4 960.1,266.0 960.4,266.0 960.8,266.2 961.1,266.0 961.4,265.9 961.7,266.4 962.0,266.0 962.4,265.4 962.7,266.6 963.0,266.2 963.3,266.4 963.6,265.3 964.0,266.7 964.3,266.2 964.6,265.8 964.9,266.5 965.2,266.2 965.6,266.4 965.9,266.6 966.2,266.1 966.5,265.9 966.9,266.2 967.2,266.1 967.5,265.8 967.8,265.6 968.1,266.6 968.5,265.8 968.8,266.3 969.1,266.8 969.4,266.4 969.7,265.8"/>
<polyline fill="none" stroke="#f54242" stroke-width="3.7" stroke-linejoin="round" points="92.9,430.7 93.2,431.1 93.5,431.0 93.8,432.3 94.2,429.8 94.5,430.2 94.8,431.1 95.1,430.4 95.4,430.7 95.8,431.2 96.1,430.3 96.4,431.0 96.7,431.0 97.0,431.3 97.4,430.5 97.7,430.9 98.0,429.6 98.3,431.2 98.7,430.7 99.0,431.3 99.3,430.3 99.6,430.7 99.9,430.6 100.3,430.5 100.6,431.4 100.9,430.3 101.2,429.6 101.5,431.8 101.9,431.8 102.2,431.7 102.5,430.2 102.8,430.7 103.1,430.1 103.5,430.3 103.8,430.6 104.1,430.6 104.4,430.9 104.8,429.5 105.1,431.4 105.4,431.0 105.7,430.5 106.0,429.6 106.4,431.1 106.7,431.4 107.0,431.1 107.3,430.1 107.6,430.9 108.0,430.0 108.3,431.9 108.6,430.1 108.9,430.1 109.3,431.6 109.6,430.7 109.9,430.1 110.2,430.7 110.5,430.2 110.9,429.4 111.2,430.6 111.5,430.0 111.8,431.2 112.1,430.5 112.5,431.0 112.8,430.9 113.1,430.9 113.4,430.4 113.7,431.4 114.1,431.7 114.4,432.2 114.7,430.0 115.0,430.7 115.4,429.9 115.7,430.8 116.0,431.3 116.3,430.5 116.6,430.9 117.0,431.6 117.3,431.4 117.6,429.8 117.9,430.7 118.2,430.7 118.6,431.1 118.9,431.4 119.2,430.4 119.5,431.0 119.9,431.4 120.2,431.0 120.5,431.4 120.8,430.8 121.1,430.3 121.5,431.5 121.8,430.2 122.1,431.4 122.4,430.9 122.7,431.5 123.1,431.1 123.4,430.9 123.7,431.2 124.0,431.3 124.3,431.3 124.7,431.4 125.0,431.8 125.3,431.1 125.6,430.7 126.0,430.3 126.3,430.5 126.6,429.4 126.9,430.7 127.2,431.1 127.6,429.7 127.9,431.4 128.2,430.2 128.5,431.4 128.8,430.6 129.2,432.0 129.5,430.2 129.8,430.8 130.1,431.3 130.5,429.7 130.8,430.3 131.1,430.7 131.4,431.1 131.7,430.7 132.1,430.8 132.4,430.3 132.7,430.2 133.0,431.1 133.3,431.0 133.7,431.0 134.0,431.5 134.3,431.0 134.6,430.7 134.9,430.2 135.3,429.8 135.6,431.1 135.9,430.2 136.2,430.8 136.6,429.3 136.9,430.6 137.2,430.2 137.5,431.0 137.8,430.9 138.2,430.3 138.5,430.7 138.8,430.2 139.1,431.4 139.4,430.0 139.8,430.9 140.1,429.3 140.4,430.5 140.7,429.7 141.0,431.2 141.4,430.1 141.7,430.9 142.0,430.7 142.3,430.4 142.7,430.6 143.0,430.3 143.3,430.0 143.6,430.1 143.9,430.6 144.3,431.4 144.6,431.1 144.9,430.7 145.2,431.9 145.5,430.1 145.9,430.7 146.2,430.8 146.5,430.0 146.8,430.2 147.2,430.5 147.5,430.4 147.8,430.5 148.1,430.5 148.4,431.2 148.8,430.1 149.1,430.5 149.4,431.9 149.7,429.5 150.0,431.5 150.4,430.0 150.7,430.2 151.0,431.3 151.3,431.2 151.6,430.6 152.0,430.8 152.3,429.8 152.6,430.2 152.9,430.9 153.3,430.4 153.6,432.0 153.9,430.5 154.2,430.2 154.5,430.8 154.9,431.2 155.2,430.4 155.5,429.6 155.8,430.6 156.1,431.5 156.5,430.0 156.8,432.0 157.1,430.5 157.4,431.1 157.8,430.2 158.1,431.3 158.4,430.0 158.7,430.7 159.0,431.9 159.4,432.1 159.7,431.1 160.0,430.1 160.3,430.8 160.6,430.8 161.0,431.0 161.3,430.4 161.6,430.6 161.9,430.6 162.2,431.4 162.6,430.1 162.9,430.0 163.2,431.5 163.5,429.3 163.9,430.2 164.2,430.9 164.5,431.8 164.8,430.2 165.1,430.3 165.5,431.0 165.8,431.7 166.1,429.9 166.4,430.9 166.7,430.8 167.1,428.8 167.4,429.2 167.7,429.9 168.0,430.8 168.4,430.1 168.7,431.9 169.0,430.4 169.3,431.0 169.6,431.3 170.0,431.5 170.3,430.2 170.6,430.4 170.9,430.4 171.2,430.0 171.6,431.0 171.9,431.3 172.2,431.6 172.5,430.7 172.8,430.0 173.2,430.6 173.5,430.1 173.8,431.2 174.1,430.7 174.5,430.9 174.8,431.2 175.1,429.3 175.4,429.9 175.7,430.9 176.1,430.9 176.4,428.1 176.7,431.3 177.0,430.2 177.3,431.2 177.7,430.6 178.0,431.0 178.3,430.6 178.6,431.1 179.0,431.3 179.3,430.9 179.6,430.7 179.9,430.4 180.2,430.2 180.6,429.3 180.9,429.8 181.2,430.4 181.5,429.7 181.8,430.5 182.2,429.1 182.5,429.6 182.8,430.7 183.1,429.3 183.4,429.1 183.8,431.1 184.1,429.7 184.4,429.3 184.7,429.9 185.1,429.0 185.4,428.5 185.7,427.1 186.0,426.8 186.3,424.7 186.7,425.9 187.0,424.2 187.3,424.0 187.6,423.1 187.9,423.2 188.3,422.8 188.6,421.1 188.9,419.5 189.2,418.4 189.6,418.6 189.9,418.5 190.2,419.5 190.5,418.2 190.8,418.8 191.2,420.6 191.5,421.1 191.8,422.6 192.1,421.9 192.4,423.5 192.8,424.7 193.1,425.1 193.4,425.8 193.7,427.0 194.0,428.1 194.4,428.6 194.7,428.4 195.0,428.4 195.3,427.6 195.7,430.3 196.0,429.3 196.3,429.1 196.6,430.3 196.9,429.7 197.3,430.6 197.6,429.3 197.9,430.4 198.2,430.0 198.5,429.8 198.9,430.5 199.2,431.4 199.5,430.6 199.8,429.8 200.2,430.4 200.5,430.2 200.8,430.9 201.1,430.3 201.4,429.9 201.8,430.4 202.1,426.2 202.4,430.6 202.7,431.1 203.0,431.4 203.4,429.8 203.7,430.6 204.0,430.0 204.3,430.3 204.6,429.6 205.0,429.8 205.3,430.8 205.6,430.4 205.9,430.0 206.3,431.4 206.6,429.7 206.9,429.9 207.2,430.0 207.5,430.8 207.9,430.4 208.2,431.3 208.5,430.6 208.8,430.9 209.1,430.5 209.5,430.8 209.8,430.3 210.1,429.8 210.4,431.3 210.8,430.0 211.1,431.7 211.4,431.9 211.7,430.6 212.0,430.5 212.4,430.3 212.7,431.6 213.0,430.6 213.3,430.5 213.6,429.8 214.0,430.6 214.3,430.2 214.6,431.1 214.9,430.6 215.2,430.8 215.6,430.1 215.9,431.1 216.2,431.0 216.5,430.2 216.9,429.5 217.2,430.3 217.5,430.5 217.8,430.9 218.1,430.0 218.5,430.3 218.8,429.5 219.1,430.4 219.4,431.1 219.7,430.5 220.1,431.2 220.4,431.3 220.7,429.7 221.0,430.0 221.3,431.3 221.7,429.4 222.0,430.3 222.3,431.1 222.6,430.2 223.0,430.5 223.3,430.9 223.6,431.6 223.9,430.4 224.2,430.2 224.6,432.0 224.9,430.1 225.2,430.1 225.5,430.7 225.8,430.3 226.2,430.6 226.5,430.9 226.8,430.5 227.1,429.5 227.5,431.1 227.8,430.1 228.1,430.0 228.4,430.6 228.7,430.3 229.1,430.8 229.4,430.4 229.7,429.7 230.0,429.3 230.3,429.7 230.7,426.8 231.0,428.5 231.3,427.4 231.6,426.6 231.9,425.5 232.3,423.1 232.6,422.6 232.9,419.7 233.2,418.2 233.6,418.3 233.9,416.1 234.2,417.2 234.5,415.7 234.8,419.0 235.2,421.0 235.5,423.3 235.8,424.5 236.1,425.4 236.4,426.9 236.8,428.0 237.1,428.4 237.4,428.7 237.7,428.1 238.1,430.4 238.4,429.9 238.7,430.3 239.0,430.8 239.3,430.7 239.7,430.6 240.0,429.7 240.3,430.3 240.6,430.5 240.9,429.9 241.3,430.1 241.6,430.5 241.9,430.2 242.2,430.9 242.5,430.0 242.9,430.2 243.2,430.7 243.5,431.3 243.8,429.6 244.2,430.5 244.5,428.7 244.8,430.9 245.1,430.0 245.4,430.8 245.8,430.4 246.1,430.1 246.4,431.1 246.7,430.7 247.0,430.5 247.4,430.6 247.7,430.3 248.0,430.0 248.3,430.1 248.7,430.4 249.0,430.8 249.3,431.3 249.6,431.1 249.9,431.0 250.3,430.2 250.6,430.8 250.9,431.3 251.2,430.2 251.5,431.0 251.9,431.0 252.2,430.7 252.5,430.3 252.8,432.1 253.1,431.3 253.5,430.6 253.8,430.9 254.1,431.2 254.4,431.0 254.8,429.8 255.1,431.0 255.4,430.3 255.7,430.2 256.0,431.0 256.4,430.4 256.7,430.9 257.0,431.0 257.3,431.2 257.6,430.1 258.0,430.8 258.3,430.9 258.6,431.3 258.9,429.5 259.3,430.1 259.6,430.7 259.9,431.0 260.2,431.5 260.5,430.4 260.9,430.4 261.2,431.4 261.5,429.9 261.8,430.2 262.1,431.2 262.5,430.9 262.8,430.9 263.1,430.5 263.4,430.6 263.7,431.6 264.1,429.7 264.4,430.3 264.7,429.8 265.0,429.8 265.4,430.7 265.7,430.3 266.0,430.1 266.3,430.0 266.6,430.5 267.0,430.8 267.3,430.5 267.6,431.0 267.9,430.8 268.2,431.6 268.6,430.4 268.9,431.0 269.2,430.7 269.5,430.5 269.9,430.3 270.2,429.4 270.5,430.4 270.8,431.4 271.1,430.6 271.5,431.0 271.8,430.3 272.1,431.0 272.4,431.0 272.7,430.9 273.1,430.9 273.4,431.6 273.7,430.9 274.0,430.5 274.3,429.8 274.7,430.7 275.0,430.7 275.3,430.0 275.6,430.2 276.0,429.6 276.3,430.2 276.6,430.5 276.9,429.7 277.2,429.6 277.6,430.8 277.9,430.3 278.2,431.4 278.5,430.6 278.8,430.9 279.2,430.6 279.5,430.7 279.8,430.5 280.1,430.5 280.5,430.1 280.8,430.2 281.1,430.6 281.4,431.1 281.7,427.6 282.1,429.4 282.4,430.5 282.7,429.9 283.0,430.2 283.3,431.1 283.7,430.3 284.0,429.3 284.3,430.8 284.6,430.6 284.9,429.1 285.3,431.2 285.6,429.7 285.9,429.8 286.2,430.2 286.6,429.9 286.9,428.3 287.2,430.5 287.5,430.0 287.8,429.9 288.2,430.1 288.5,430.3 288.8,428.4 289.1,429.1 289.4,430.2 289.8,429.3 290.1,428.5 290.4,428.2 290.7,429.2 291.1,428.2 291.4,427.8 291.7,427.5 292.0,427.2 292.3,428.4 292.7,426.0 293.0,426.8 293.3,425.7 293.6,424.9 293.9,426.6 294.3,427.3 294.6,425.8 294.9,426.4 295.2,426.5 295.5,426.9 295.9,425.3 296.2,426.7 296.5,427.5 296.8,427.0 297.2,427.6 297.5,427.0 297.8,427.6 298.1,428.1 298.4,427.3 298.8,428.3 299.1,427.6 299.4,427.5 299.7,428.7 300.0,429.0 300.4,428.3 300.7,428.4 301.0,429.1 301.3,429.2 301.6,429.4 302.0,429.3 302.3,429.3 302.6,430.2 302.9,430.1 303.3,429.9 303.6,430.3 303.9,429.9 304.2,429.7 304.5,430.1 304.9,430.4 305.2,430.5 305.5,429.0 305.8,429.6 306.1,430.8 306.5,430.7 306.8,429.0 307.1,429.2 307.4,430.0 307.8,429.5 308.1,431.1 308.4,430.1 308.7,429.6 309.0,431.2 309.4,430.6 309.7,429.7 310.0,429.4 310.3,430.5 310.6,429.9 311.0,429.1 311.3,430.3 311.6,430.9 311.9,430.1 312.2,430.3 312.6,429.3 312.9,430.0 313.2,430.6 313.5,428.6 313.9,430.3 314.2,429.7 314.5,429.6 314.8,429.5 315.1,429.9 315.5,429.7 315.8,430.0 316.1,430.9 316.4,430.1 316.7,429.7 317.1,430.0 317.4,429.8 317.7,430.2 318.0,429.0 318.4,428.7 318.7,431.0 319.0,429.6 319.3,430.0 319.6,431.1 320.0,429.2 320.3,429.8 320.6,429.6 320.9,429.7 321.2,428.5 321.6,428.3 321.9,428.8 322.2,428.4 322.5,428.8 322.8,428.6 323.2,429.0 323.5,428.4 323.8,428.7 324.1,427.9 324.5,427.5 324.8,427.6 325.1,426.8 325.4,425.7 325.7,428.4 326.1,426.7 326.4,426.7 326.7,426.3 327.0,426.4 327.3,425.1 327.7,424.7 328.0,424.3 328.3,423.3 328.6,422.5 329.0,422.5 329.3,418.7 329.6,417.6 329.9,415.3 330.2,410.7 330.6,406.3 330.9,400.7 331.2,389.6 331.5,380.6 331.8,366.0 332.2,350.1 332.5,331.7 332.8,314.3 333.1,299.6 333.4,289.4 333.8,284.8 334.1,287.3 334.4,297.8 334.7,314.3 335.1,333.6 335.4,349.1 335.7,365.9 336.0,379.4 336.3,390.3 336.7,398.4 337.0,405.4 337.3,409.9 337.6,413.5 337.9,416.7 338.3,419.8 338.6,421.7 338.9,421.7 339.2,422.8 339.6,422.1 339.9,424.1 340.2,424.7 340.5,424.5 340.8,424.8 341.2,425.9 341.5,425.8 341.8,427.0 342.1,427.1 342.4,426.0 342.8,427.8 343.1,426.5 343.4,426.7 343.7,426.7 344.0,426.7 344.4,427.0 344.7,428.7 345.0,428.0 345.3,427.8 345.7,426.8 346.0,428.1 346.3,427.1 346.6,427.3 346.9,426.1 347.3,427.6 347.6,427.3 347.9,425.7 348.2,427.0 348.5,423.7 348.9,424.4 349.2,424.0 349.5,421.9 349.8,420.5 350.2,417.5 350.5,414.7 350.8,410.7 351.1,408.0 351.4,403.8 351.8,399.8 352.1,394.8 352.4,389.5 352.7,387.9 353.0,383.0 353.4,382.5 353.7,382.2 354.0,384.0 354.3,386.8 354.6,391.5 355.0,396.5 355.3,400.6 355.6,405.3 355.9,409.5 356.3,412.9 356.6,415.6 356.9,418.6 357.2,420.8 357.5,423.4 357.9,424.0 358.2,426.1 358.5,425.3 358.8,427.0 359.1,426.2 359.5,425.5 359.8,427.8 360.1,427.1 360.4,427.9 360.8,428.6 361.1,429.0 361.4,428.2 361.7,427.8 362.0,428.6 362.4,429.9 362.7,429.7 363.0,429.3 363.3,428.4 363.6,429.1 364.0,429.1 364.3,428.6 364.6,429.4 364.9,429.4 365.2,429.5 365.6,430.6 365.9,429.3 366.2,429.3 366.5,429.0 366.9,430.4 367.2,430.2 367.5,429.1 367.8,429.0 368.1,429.0 368.5,430.4 368.8,429.8 369.1,430.4 369.4,429.8 369.7,430.4 370.1,429.8 370.4,429.4 370.7,429.5 371.0,431.2 371.4,429.6 371.7,429.9 372.0,430.9 372.3,430.8 372.6,430.3 373.0,429.9 373.3,430.5 373.6,431.3 373.9,430.1 374.2,430.3 374.6,428.9 374.9,431.2 375.2,429.0 375.5,429.4 375.8,430.3 376.2,429.4 376.5,430.3 376.8,429.8 377.1,430.8 377.5,430.4 377.8,431.0 378.1,431.3 378.4,430.6 378.7,430.8 379.1,430.1 379.4,429.7 379.7,430.6 380.0,430.4 380.3,430.4 380.7,431.6 381.0,430.4 381.3,430.6 381.6,430.6 381.9,431.2 382.3,431.7 382.6,430.7 382.9,430.3 383.2,429.1 383.6,429.9 383.9,429.7 384.2,430.4 384.5,429.9 384.8,430.8 385.2,430.2 385.5,430.1 385.8,429.0 386.1,430.5 386.4,431.5 386.8,429.9 387.1,431.2 387.4,430.7 387.7,430.9 388.1,431.3 388.4,429.9 388.7,430.3 389.0,431.1 389.3,430.7 389.7,431.0 390.0,430.3 390.3,430.9 390.6,431.2 390.9,431.1 391.3,431.0 391.6,430.5 391.9,431.3 392.2,430.8 392.5,430.5 392.9,429.3 393.2,430.3 393.5,432.5 393.8,431.1 394.2,427.2 394.5,430.5 394.8,429.7 395.1,430.2 395.4,432.0 395.8,430.4 396.1,430.5 396.4,430.4 396.7,429.7 397.0,431.2 397.4,429.9 397.7,431.5 398.0,430.5 398.3,430.3 398.7,429.1 399.0,430.9 399.3,431.6 399.6,430.1 399.9,430.9 400.3,429.6 400.6,430.9 400.9,431.0 401.2,429.8 401.5,430.5 401.9,430.0 402.2,431.4 402.5,429.6 402.8,430.9 403.1,430.1 403.5,431.1 403.8,431.4 404.1,430.6 404.4,430.3 404.8,429.4 405.1,429.6 405.4,429.9 405.7,429.9 406.0,428.4 406.4,430.7 406.7,429.5 407.0,430.3 407.3,430.0 407.6,430.4 408.0,429.3 408.3,430.7 408.6,430.8 408.9,430.0 409.3,430.6 409.6,429.4 409.9,429.3 410.2,430.2 410.5,429.2 410.9,430.0 411.2,429.5 411.5,429.4 411.8,428.2 412.1,429.2 412.5,429.6 412.8,429.4 413.1,428.0 413.4,429.5 413.7,428.5 414.1,428.1 414.4,429.0 414.7,427.2 415.0,425.6 415.4,425.3 415.7,424.9 416.0,422.5 416.3,421.0 416.6,418.0 417.0,417.8 417.3,415.2 417.6,412.2 417.9,409.5 418.2,406.3 418.6,403.6 418.9,401.3 419.2,399.7 419.5,397.4 419.9,397.4 420.2,397.4 420.5,398.2 420.8,398.3 421.1,401.7 421.5,405.9 421.8,407.9 422.1,410.5 422.4,413.9 422.7,417.5 423.1,420.0 423.4,420.0 423.7,421.7 424.0,423.5 424.3,425.5 424.7,424.9 425.0,425.8 425.3,427.2 425.6,427.8 426.0,429.2 426.3,427.9 426.6,429.6 426.9,428.5 427.2,428.6 427.6,429.1 427.9,428.3 428.2,429.6 428.5,429.1 428.8,429.1 429.2,429.4 429.5,429.9 429.8,429.0 430.1,429.5 430.5,428.7 430.8,430.0 431.1,429.8 431.4,428.5 431.7,429.9 432.1,430.2 432.4,430.7 432.7,430.8 433.0,431.2 433.3,429.9 433.7,430.0 434.0,430.7 434.3,430.9 434.6,430.3 434.9,430.5 435.3,431.0 435.6,430.0 435.9,430.1 436.2,430.2 436.6,429.7 436.9,430.5 437.2,429.3 437.5,430.8 437.8,429.9 438.2,429.8 438.5,430.3 438.8,430.0 439.1,431.0 439.4,431.1 439.8,430.4 440.1,430.7 440.4,429.9 440.7,430.2 441.1,429.9 441.4,430.1 441.7,430.1 442.0,430.2 442.3,430.6 442.7,430.7 443.0,429.2 443.3,431.4 443.6,430.6 443.9,429.9 444.3,430.2 444.6,429.7 444.9,430.2 445.2,431.3 445.5,430.7 445.9,431.4 446.2,429.9 446.5,429.6 446.8,430.8 447.2,430.2 447.5,430.8 447.8,431.4 448.1,430.8 448.4,431.5 448.8,431.0 449.1,430.5 449.4,430.2 449.7,429.9 450.0,430.9 450.4,430.5 450.7,430.3 451.0,430.3 451.3,432.3 451.7,431.1 452.0,430.2 452.3,431.3 452.6,430.5 452.9,430.2 453.3,431.8 453.6,430.8 453.9,430.5 454.2,430.6 454.5,431.6 454.9,424.3 455.2,431.0 455.5,430.2 455.8,430.4 456.1,431.0 456.5,430.6 456.8,431.1 457.1,430.4 457.4,431.7 457.8,430.9 458.1,430.3 458.4,430.6 458.7,430.7 459.0,431.1 459.4,431.0 459.7,430.3 460.0,431.6 460.3,429.5 460.6,430.8 461.0,429.4 461.3,430.1 461.6,431.0 461.9,430.3 462.2,430.6 462.6,430.5 462.9,430.3 463.2,431.1 463.5,431.2 463.9,431.1 464.2,431.7 464.5,431.0 464.8,430.6 465.1,430.6 465.5,430.7 465.8,431.1 466.1,430.3 466.4,432.0 466.7,431.1 467.1,431.1 467.4,430.3 467.7,430.5 468.0,430.3 468.4,430.8 468.7,430.2 469.0,431.4 469.3,430.8 469.6,432.2 470.0,429.9 470.3,429.9 470.6,431.3 470.9,431.4 471.2,432.2 471.6,431.8 471.9,430.8 472.2,431.0 472.5,431.7 472.8,431.2 473.2,431.3 473.5,430.6 473.8,430.5 474.1,431.0 474.5,430.8 474.8,430.9 475.1,432.1 475.4,430.8 475.7,430.9 476.1,430.5 476.4,432.0 476.7,430.5 477.0,431.3 477.3,430.8 477.7,430.2 478.0,431.8 478.3,431.7 478.6,430.3 479.0,431.6 479.3,431.5 479.6,430.6 479.9,431.1 480.2,430.6 480.6,430.8 480.9,431.0 481.2,430.4 481.5,429.7 481.8,431.1 482.2,430.1 482.5,430.3 482.8,430.9 483.1,430.7 483.4,431.6 483.8,431.4 484.1,430.9 484.4,431.0 484.7,430.2 485.1,431.8 485.4,431.2 485.7,431.4 486.0,431.1 486.3,430.2 486.7,431.7 487.0,430.4 487.3,431.3 487.6,431.2 487.9,430.4 488.3,431.1 488.6,430.5 488.9,430.9 489.2,431.0 489.6,431.2 489.9,432.0 490.2,431.4 490.5,430.9 490.8,430.8 491.2,431.9 491.5,430.4 491.8,430.7 492.1,431.8 492.4,431.6 492.8,430.6 493.1,431.9 493.4,431.3 493.7,430.9 494.0,430.9 494.4,430.9 494.7,430.7 495.0,431.3 495.3,431.1 495.7,429.6 496.0,431.7 496.3,431.1 496.6,430.7 496.9,431.2 497.3,430.1 497.6,430.8 497.9,430.4 498.2,432.4 498.5,430.1 498.9,430.1 499.2,431.3 499.5,430.0 499.8,430.7 500.2,430.3 500.5,427.6 500.8,430.7 501.1,431.4 501.4,430.8 501.8,431.6 502.1,431.3 502.4,431.3 502.7,431.3 503.0,430.1 503.4,430.4 503.7,431.4 504.0,430.2 504.3,431.9 504.6,431.2 505.0,430.9 505.3,430.1 505.6,430.3 505.9,430.5 506.3,429.9 506.6,428.8 506.9,429.9 507.2,431.2 507.5,431.7 507.9,430.9 508.2,430.2 508.5,430.5 508.8,430.1 509.1,430.2 509.5,430.3 509.8,430.1 510.1,431.0 510.4,430.0 510.8,431.2 511.1,430.6 511.4,431.4 511.7,430.2 512.0,431.5 512.4,429.8 512.7,431.5 513.0,430.6 513.3,430.8 513.6,431.2 514.0,430.0 514.3,431.0 514.6,429.9 514.9,431.4 515.2,431.2 515.6,431.9 515.9,430.4 516.2,430.2 516.5,430.6 516.9,430.8 517.2,431.2 517.5,429.3 517.8,430.3 518.1,431.9 518.5,430.9 518.8,432.3 519.1,429.7 519.4,429.5 519.7,429.8 520.1,430.7 520.4,430.9 520.7,431.4 521.0,430.3 521.4,431.1 521.7,430.8 522.0,431.0 522.3,430.8 522.6,430.1 523.0,429.6 523.3,430.5 523.6,430.6 523.9,431.3 524.2,431.4 524.6,431.3 524.9,430.2 525.2,430.6 525.5,430.2 525.8,430.5 526.2,431.1 526.5,431.6 526.8,431.1 527.1,431.8 527.5,429.7 527.8,430.7 528.1,431.1 528.4,429.7 528.7,431.1 529.1,430.6 529.4,431.0 529.7,430.7 530.0,431.2 530.3,430.7 530.7,430.1 531.0,431.8 531.3,432.3 531.6,430.1 532.0,430.8 532.3,430.4 532.6,431.1 532.9,430.0 533.2,429.8 533.6,431.6 533.9,430.4 534.2,431.2 534.5,431.8 534.8,431.0 535.2,430.5 535.5,431.6 535.8,431.6 536.1,430.1 536.4,430.8 536.8,430.6 537.1,431.5 537.4,431.2 537.7,430.7 538.1,430.7 538.4,430.7 538.7,429.9 539.0,430.7 539.3,431.8 539.7,431.4 540.0,430.9 540.3,430.0 540.6,431.2 540.9,431.0 541.3,430.7 541.6,431.1 541.9,431.1 542.2,430.7 542.5,430.0 542.9,430.3 543.2,430.8 543.5,430.4 543.8,431.4 544.2,429.9 544.5,430.0 544.8,430.3 545.1,431.4 545.4,429.1 545.8,432.1 546.1,430.9 546.4,430.7 546.7,429.7 547.0,429.0 547.4,429.9 547.7,430.1 548.0,430.2 548.3,429.4 548.7,428.9 549.0,429.4 549.3,429.7 549.6,430.7 549.9,428.2 550.3,428.9 550.6,429.4 550.9,427.7 551.2,426.3 551.5,426.6 551.9,426.5 552.2,423.5 552.5,423.8 552.8,423.2 553.1,422.1 553.5,423.7 553.8,422.2 554.1,422.5 554.4,421.4 554.8,423.9 555.1,424.6 555.4,425.9 555.7,426.4 556.0,426.8 556.4,427.2 556.7,428.1 557.0,427.2 557.3,428.6 557.6,428.9 558.0,428.7 558.3,429.4 558.6,430.3 558.9,431.0 559.3,430.0 559.6,430.8 559.9,429.6 560.2,430.9 560.5,431.9 560.9,430.5 561.2,429.9 561.5,430.8 561.8,430.6 562.1,430.6 562.5,429.6 562.8,430.5 563.1,430.7 563.4,431.1 563.7,431.8 564.1,430.0 564.4,430.2 564.7,431.5 565.0,430.5 565.4,430.7 565.7,431.2 566.0,431.2 566.3,430.5 566.6,431.7 567.0,431.3 567.3,431.0 567.6,431.0 567.9,431.1 568.2,430.8 568.6,430.6 568.9,431.5 569.2,430.8 569.5,431.2 569.9,430.0 570.2,431.8 570.5,431.1 570.8,430.5 571.1,431.1 571.5,431.1 571.8,431.3 572.1,430.7 572.4,431.6 572.7,431.0 573.1,431.0 573.4,431.8 573.7,428.5 574.0,431.2 574.3,430.7 574.7,430.4 575.0,430.7 575.3,431.7 575.6,430.8 576.0,431.9 576.3,431.4 576.6,429.9 576.9,430.9 577.2,429.9 577.6,431.0 577.9,430.9 578.2,431.6 578.5,430.4 578.8,431.0 579.2,430.5 579.5,430.6 579.8,430.6 580.1,430.7 580.5,430.9 580.8,430.8 581.1,431.2 581.4,432.1 581.7,430.5 582.1,429.6 582.4,430.2 582.7,429.4 583.0,430.6 583.3,431.5 583.7,431.5 584.0,430.4 584.3,430.7 584.6,431.0 584.9,430.5 585.3,431.5 585.6,430.6 585.9,431.1 586.2,430.8 586.6,430.2 586.9,429.3 587.2,430.1 587.5,430.1 587.8,431.4 588.2,429.5 588.5,431.7 588.8,431.0 589.1,430.4 589.4,432.3 589.8,427.5 590.1,430.2 590.4,430.9 590.7,430.7 591.1,430.1 591.4,431.0 591.7,430.2 592.0,431.1 592.3,430.9 592.7,430.7 593.0,430.4 593.3,430.2 593.6,431.7 593.9,432.1 594.3,430.9 594.6,430.8 594.9,431.4 595.2,430.6 595.5,430.4 595.9,430.5 596.2,429.7 596.5,431.4 596.8,430.7 597.2,429.5 597.5,430.3 597.8,431.3 598.1,430.1 598.4,429.9 598.8,429.4 599.1,430.3 599.4,429.9 599.7,431.3 600.0,430.9 600.4,430.0 600.7,431.3 601.0,430.8 601.3,431.8 601.7,429.8 602.0,430.8 602.3,430.4 602.6,431.6 602.9,431.5 603.3,429.5 603.6,430.8 603.9,430.9 604.2,430.3 604.5,430.2 604.9,431.8 605.2,431.2 605.5,430.6 605.8,430.6 606.1,430.4 606.5,430.8 606.8,430.8 607.1,430.5 607.4,431.0 607.8,431.1 608.1,431.0 608.4,430.6 608.7,430.7 609.0,430.9 609.4,430.8 609.7,430.6 610.0,430.4 610.3,430.4 610.6,431.4 611.0,430.1 611.3,431.6 611.6,430.4 611.9,431.1 612.3,430.3 612.6,430.0 612.9,431.8 613.2,430.2 613.5,430.5 613.9,431.0 614.2,430.5 614.5,431.0 614.8,430.6 615.1,431.3 615.5,430.2 615.8,430.3 616.1,430.3 616.4,431.1 616.7,429.6 617.1,429.5 617.4,430.8 617.7,431.0 618.0,431.0 618.4,430.4 618.7,430.2 619.0,431.3 619.3,432.1 619.6,430.6 620.0,430.9 620.3,430.8 620.6,430.6 620.9,431.5 621.2,430.8 621.6,431.0 621.9,430.6 622.2,430.1 622.5,430.9 622.8,431.4 623.2,430.2 623.5,430.4 623.8,431.0 624.1,432.0 624.5,431.5 624.8,430.8 625.1,430.5 625.4,431.2 625.7,430.4 626.1,431.2 626.4,431.1 626.7,430.5 627.0,431.0 627.3,430.7 627.7,430.3 628.0,430.2 628.3,431.2 628.6,431.0 629.0,431.6 629.3,431.6 629.6,430.6 629.9,431.1 630.2,431.9 630.6,430.4 630.9,431.3 631.2,431.0 631.5,430.6 631.8,430.6 632.2,430.9 632.5,432.1 632.8,430.5 633.1,431.2 633.4,431.7 633.8,432.2 634.1,430.1 634.4,430.8 634.7,430.8 635.1,430.5 635.4,430.9 635.7,431.7 636.0,430.5 636.3,430.3 636.7,430.6 637.0,430.0 637.3,429.7 637.6,431.3 637.9,431.1 638.3,430.3 638.6,430.7 638.9,430.7 639.2,430.3 639.6,430.4 639.9,431.1 640.2,430.8 640.5,431.3 640.8,431.0 641.2,431.6 641.5,432.1 641.8,431.2 642.1,431.3 642.4,430.4 642.8,430.1 643.1,431.0 643.4,430.7 643.7,431.3 644.0,431.5 644.4,431.2 644.7,431.2 645.0,430.8 645.3,430.9 645.7,430.0 646.0,431.1 646.3,432.0 646.6,430.9 646.9,431.4 647.3,430.9 647.6,430.4 647.9,431.4 648.2,431.1 648.5,430.8 648.9,431.7 649.2,430.9 649.5,430.7 649.8,430.5 650.2,430.3 650.5,430.6 650.8,430.7 651.1,431.8 651.4,432.6 651.8,431.6 652.1,428.1 652.4,430.9 652.7,432.3 653.0,431.3 653.4,430.8 653.7,432.1 654.0,430.6 654.3,431.7 654.6,430.4 655.0,431.0 655.3,429.2 655.6,431.8 655.9,430.8 656.3,431.9 656.6,430.3 656.9,430.9 657.2,430.4 657.5,431.0 657.9,431.7 658.2,431.4 658.5,431.8 658.8,431.6 659.1,430.9 659.5,430.4 659.8,430.5 660.1,430.6 660.4,431.3 660.8,430.6 661.1,431.4 661.4,430.8 661.7,430.4 662.0,431.0 662.4,431.2 662.7,431.2 663.0,430.5 663.3,431.1 663.6,431.7 664.0,431.1 664.3,431.5 664.6,430.0 664.9,430.9 665.2,431.8 665.6,430.8 665.9,430.5 666.2,430.7 666.5,431.2 666.9,430.8 667.2,430.7 667.5,430.3 667.8,430.7 668.1,429.6 668.5,431.1 668.8,430.0 669.1,431.0 669.4,432.0 669.7,431.7 670.1,432.1 670.4,432.0 670.7,430.3 671.0,431.3 671.4,430.6 671.7,431.4 672.0,430.9 672.3,431.4 672.6,430.3 673.0,431.0 673.3,431.1 673.6,430.9 673.9,429.5 674.2,430.5 674.6,430.3 674.9,431.5 675.2,431.2 675.5,430.6 675.8,431.9 676.2,430.0 676.5,430.6 676.8,430.7 677.1,430.8 677.5,430.8 677.8,431.0 678.1,429.9 678.4,430.2 678.7,429.9 679.1,430.8 679.4,431.2 679.7,429.8 680.0,431.3 680.3,431.0 680.7,428.7 681.0,429.9 681.3,431.3 681.6,430.6 682.0,430.4 682.3,430.5 682.6,430.9 682.9,430.0 683.2,430.7 683.6,430.5 683.9,431.7 684.2,430.4 684.5,431.5 684.8,429.9 685.2,430.0 685.5,430.5 685.8,430.1 686.1,430.1 686.4,430.2 686.8,429.9 687.1,430.2 687.4,430.3 687.7,430.4 688.1,429.0 688.4,429.8 688.7,429.9 689.0,429.4 689.3,430.0 689.7,429.9 690.0,429.3 690.3,429.0 690.6,429.1 690.9,430.2 691.3,429.2 691.6,429.0 691.9,428.5 692.2,429.1 692.6,428.9 692.9,428.0 693.2,428.0 693.5,427.6 693.8,426.4 694.2,425.0 694.5,424.7 694.8,423.1 695.1,423.5 695.4,421.2 695.8,420.4 696.1,419.7 696.4,418.1 696.7,417.0 697.0,415.2 697.4,414.3 697.7,411.8 698.0,411.9 698.3,412.0 698.7,410.9 699.0,410.6 699.3,411.5 699.6,411.4 699.9,413.6 700.3,414.8 700.6,414.5 700.9,416.9 701.2,418.0 701.5,419.3 701.9,420.6 702.2,422.1 702.5,423.4 702.8,423.5 703.1,425.4 703.5,425.7 703.8,426.1 704.1,427.3 704.4,428.5 704.8,427.7 705.1,427.7 705.4,428.5 705.7,429.9 706.0,428.8 706.4,428.1 706.7,430.4 707.0,431.2 707.3,429.8 707.6,429.7 708.0,429.4 708.3,429.4 708.6,429.9 708.9,429.7 709.3,429.8 709.6,430.0 709.9,430.1 710.2,430.2 710.5,429.7 710.9,429.9 711.2,430.5 711.5,429.6 711.8,430.7 712.1,430.4 712.5,430.2 712.8,431.5 713.1,430.6 713.4,429.9 713.7,430.0 714.1,431.1 714.4,431.0 714.7,431.2 715.0,430.7 715.4,430.6 715.7,431.6 716.0,430.5 716.3,430.6 716.6,430.7 717.0,431.1 717.3,430.8 717.6,431.8 717.9,430.6 718.2,430.6 718.6,430.8 718.9,431.5 719.2,430.0 719.5,430.1 719.9,431.8 720.2,430.5 720.5,430.7 720.8,432.3 721.1,430.6 721.5,430.4 721.8,430.4 722.1,430.7 722.4,431.2 722.7,431.1 723.1,430.6 723.4,430.2 723.7,431.2 724.0,431.1 724.3,430.5 724.7,432.1 725.0,429.9 725.3,431.0 725.6,432.1 726.0,430.4 726.3,431.3 726.6,430.3 726.9,430.0 727.2,431.5 727.6,431.5 727.9,430.8 728.2,431.7 728.5,430.3 728.8,430.6 729.2,430.2 729.5,431.8 729.8,430.6 730.1,430.5 730.5,431.8 730.8,430.3 731.1,431.6 731.4,430.7 731.7,431.5 732.1,430.3 732.4,429.8 732.7,430.8 733.0,430.8 733.3,430.1 733.7,431.0 734.0,430.7 734.3,430.3 734.6,430.5 734.9,429.7 735.3,429.9 735.6,429.5 735.9,430.6 736.2,429.9 736.6,431.0 736.9,430.0 737.2,429.4 737.5,429.1 737.8,431.2 738.2,430.6 738.5,430.0 738.8,431.0 739.1,430.1 739.4,428.8 739.8,430.7 740.1,430.7 740.4,431.0 740.7,430.3 741.1,429.7 741.4,428.9 741.7,428.9 742.0,431.4 742.3,430.8 742.7,430.0 743.0,431.1 743.3,430.2 743.6,428.4 743.9,430.3 744.3,430.6 744.6,429.9 744.9,430.1 745.2,429.9 745.5,429.4 745.9,430.7 746.2,431.0 746.5,430.5 746.8,430.2 747.2,430.4 747.5,429.8 747.8,430.2 748.1,429.7 748.4,430.2 748.8,430.7 749.1,429.8 749.4,430.0 749.7,430.7 750.0,430.4 750.4,428.5 750.7,432.1 751.0,429.4 751.3,429.9 751.7,429.9 752.0,429.9 752.3,429.9 752.6,428.1 752.9,429.5 753.3,429.3 753.6,428.4 753.9,428.3 754.2,428.4 754.5,428.1 754.9,428.4 755.2,426.5 755.5,427.3 755.8,427.7 756.1,425.1 756.5,424.9 756.8,424.7 757.1,424.9 757.4,423.6 757.8,424.9 758.1,425.6 758.4,424.2 758.7,424.1 759.0,424.6 759.4,424.1 759.7,425.3 760.0,426.5 760.3,426.9 760.6,426.6 761.0,427.6 761.3,428.1 761.6,429.4 761.9,428.9 762.3,429.8 762.6,429.1 762.9,429.4 763.2,429.3 763.5,428.8 763.9,430.1 764.2,429.3 764.5,430.9 764.8,430.3 765.1,429.8 765.5,429.3 765.8,431.1 766.1,430.6 766.4,430.4 766.7,427.6 767.1,431.1 767.4,431.6 767.7,431.4 768.0,430.7 768.4,431.5 768.7,429.6 769.0,429.9 769.3,431.8 769.6,430.9 770.0,429.9 770.3,429.8 770.6,430.0 770.9,431.6 771.2,430.9 771.6,430.0 771.9,430.7 772.2,431.1 772.5,430.6 772.9,430.3 773.2,430.8 773.5,430.7 773.8,430.2 774.1,431.2 774.5,431.5 774.8,430.4 775.1,431.6 775.4,430.6 775.7,431.3 776.1,430.4 776.4,431.5 776.7,430.2 777.0,430.7 777.3,431.1 777.7,431.4 778.0,430.5 778.3,431.4 778.6,431.6 779.0,430.2 779.3,430.6 779.6,430.2 779.9,431.8 780.2,432.2 780.6,432.0 780.9,430.6 781.2,430.5 781.5,432.1 781.8,430.4 782.2,431.2 782.5,431.7 782.8,431.0 783.1,430.6 783.4,431.1 783.8,431.1 784.1,431.4 784.4,431.8 784.7,431.2 785.1,432.0 785.4,430.6 785.7,431.5 786.0,430.2 786.3,431.9 786.7,430.1 787.0,431.4 787.3,431.4 787.6,430.7 787.9,430.3 788.3,430.1 788.6,431.1 788.9,429.6 789.2,430.5 789.6,431.6 789.9,431.0 790.2,429.9 790.5,430.7 790.8,430.4 791.2,429.3 791.5,431.1 791.8,430.6 792.1,431.2 792.4,430.8 792.8,430.5 793.1,431.7 793.4,430.8 793.7,430.8 794.0,430.2 794.4,431.2 794.7,431.6 795.0,430.6 795.3,431.5 795.7,430.8 796.0,428.1 796.3,431.4 796.6,431.0 796.9,431.5 797.3,432.6 797.6,431.8 797.9,432.2 798.2,430.9 798.5,431.5 798.9,430.9 799.2,430.8 799.5,430.2 799.8,431.0 800.2,431.0 800.5,430.5 800.8,429.8 801.1,430.8 801.4,430.6 801.8,430.9 802.1,431.2 802.4,431.7 802.7,430.7 803.0,430.9 803.4,430.9 803.7,429.6 804.0,431.0 804.3,430.6 804.6,431.0 805.0,430.1 805.3,431.0 805.6,429.6 805.9,430.9 806.3,430.3 806.6,430.2 806.9,430.9 807.2,430.3 807.5,430.8 807.9,431.3 808.2,431.2 808.5,430.6 808.8,429.8 809.1,431.1 809.5,430.5 809.8,431.3 810.1,430.7 810.4,431.7 810.8,431.3 811.1,430.8 811.4,431.3 811.7,431.0 812.0,430.2 812.4,430.9 812.7,431.2 813.0,431.5 813.3,431.2 813.6,430.1 814.0,430.8 814.3,430.9 814.6,430.3 814.9,430.2 815.2,430.1 815.6,431.0 815.9,431.3 816.2,431.8 816.5,431.1 816.9,430.9 817.2,430.3 817.5,430.6 817.8,431.1 818.1,430.2 818.5,431.5 818.8,431.3 819.1,431.4 819.4,431.4 819.7,430.9 820.1,431.2 820.4,431.2 820.7,429.9 821.0,431.6 821.4,431.4 821.7,430.9 822.0,430.6 822.3,430.5 822.6,430.9 823.0,431.0 823.3,430.9 823.6,430.3 823.9,431.3 824.2,432.2 824.6,430.7 824.9,431.5 825.2,430.9 825.5,430.0 825.8,430.8 826.2,429.8 826.5,431.9 826.8,430.7 827.1,430.6 827.5,430.4 827.8,431.4 828.1,430.8 828.4,430.9 828.7,430.9 829.1,431.8 829.4,431.9 829.7,430.6 830.0,430.7 830.3,430.9 830.7,430.5 831.0,430.2 831.3,431.6 831.6,430.4 832.0,430.0 832.3,430.3 832.6,430.5 832.9,430.5 833.2,431.8 833.6,431.2 833.9,430.2 834.2,430.0 834.5,430.5 834.8,431.1 835.2,430.8 835.5,430.2 835.8,429.6 836.1,430.3 836.4,431.1 836.8,430.4 837.1,430.5 837.4,429.4 837.7,430.5 838.1,430.9 838.4,430.9 838.7,431.5 839.0,431.4 839.3,431.1 839.7,431.4 840.0,430.7 840.3,430.7 840.6,430.2 840.9,429.8 841.3,430.6 841.6,430.9 841.9,431.8 842.2,430.5 842.6,430.3 842.9,431.2 843.2,431.0 843.5,431.1 843.8,430.1 844.2,430.3 844.5,430.0 844.8,431.4 845.1,429.1 845.4,431.2 845.8,431.3 846.1,430.6 846.4,431.0 846.7,429.6 847.0,430.9 847.4,431.0 847.7,430.0 848.0,427.9 848.3,431.0 848.7,430.8 849.0,430.7 849.3,430.7 849.6,429.6 849.9,429.9 850.3,430.0 850.6,429.8 850.9,430.6 851.2,430.0 851.5,430.6 851.9,431.0 852.2,429.5 852.5,431.6 852.8,430.6 853.2,431.0 853.5,431.7 853.8,430.9 854.1,430.7 854.4,430.4 854.8,431.2 855.1,430.2 855.4,430.5 855.7,430.2 856.0,431.8 856.4,430.9 856.7,431.0 857.0,430.3 857.3,431.0 857.6,430.9 858.0,431.3 858.3,431.4 858.6,431.2 858.9,430.0 859.3,431.3 859.6,432.1 859.9,430.5 860.2,430.9 860.5,430.3 860.9,430.3 861.2,430.8 861.5,430.9 861.8,431.0 862.1,430.6 862.5,431.1 862.8,430.5 863.1,429.7 863.4,430.9 863.7,430.9 864.1,430.9 864.4,430.1 864.7,430.1 865.0,429.6 865.4,430.0 865.7,430.3 866.0,430.1 866.3,431.1 866.6,429.9 867.0,430.1 867.3,428.8 867.6,429.2 867.9,430.5 868.2,430.2 868.6,429.2 868.9,430.8 869.2,430.0 869.5,427.4 869.9,428.7 870.2,428.8 870.5,428.0 870.8,428.6 871.1,428.2 871.5,428.1 871.8,426.7 872.1,427.4 872.4,427.4 872.7,426.7 873.1,428.0 873.4,426.0 873.7,426.2 874.0,425.9 874.3,425.2 874.7,425.3 875.0,424.2 875.3,423.8 875.6,423.9 876.0,423.8 876.3,424.2 876.6,424.4 876.9,425.4 877.2,424.9 877.6,424.1 877.9,424.6 878.2,425.7 878.5,425.6 878.8,425.3 879.2,426.4 879.5,425.6 879.8,427.4 880.1,426.8 880.5,427.2 880.8,427.8 881.1,427.3 881.4,428.1 881.7,430.0 882.1,428.5 882.4,426.9 882.7,428.9 883.0,428.7 883.3,430.2 883.7,429.7 884.0,429.5 884.3,430.0 884.6,429.2 884.9,429.7 885.3,430.4 885.6,429.7 885.9,429.7 886.2,430.6 886.6,430.0 886.9,430.1 887.2,430.1 887.5,431.1 887.8,429.7 888.2,430.1 888.5,430.5 888.8,430.4 889.1,430.4 889.4,430.7 889.8,430.9 890.1,430.6 890.4,431.0 890.7,430.9 891.1,431.4 891.4,430.8 891.7,430.1 892.0,430.5 892.3,430.7 892.7,430.9 893.0,430.9 893.3,431.6 893.6,429.7 893.9,431.1 894.3,431.6 894.6,430.0 894.9,430.6 895.2,431.0 895.5,431.6 895.9,431.5 896.2,429.7 896.5,430.7 896.8,431.0 897.2,429.5 897.5,431.0 897.8,431.2 898.1,430.3 898.4,430.4 898.8,429.7 899.1,431.5 899.4,430.4 899.7,431.6 900.0,430.3 900.4,431.0 900.7,430.9 901.0,431.1 901.3,430.1 901.7,429.6 902.0,430.6 902.3,430.7 902.6,430.9 902.9,430.3 903.3,431.2 903.6,428.4 903.9,430.7 904.2,429.6 904.5,430.5 904.9,431.4 905.2,431.6 905.5,429.7 905.8,431.1 906.1,430.8 906.5,431.4 906.8,429.2 907.1,429.3 907.4,431.7 907.8,430.3 908.1,429.8 908.4,430.7 908.7,430.7 909.0,429.9 909.4,430.2 909.7,431.3 910.0,429.8 910.3,430.8 910.6,429.4 911.0,431.0 911.3,431.9 911.6,430.4 911.9,429.8 912.3,429.6 912.6,430.4 912.9,431.1 913.2,429.9 913.5,431.6 913.9,430.0 914.2,431.2 914.5,430.9 914.8,431.3 915.1,431.1 915.5,429.7 915.8,431.3 916.1,430.5 916.4,431.1 916.7,430.0 917.1,431.5 917.4,430.6 917.7,430.1 918.0,429.2 918.4,431.3 918.7,424.6 919.0,428.5 919.3,429.6 919.6,431.1 920.0,430.0 920.3,431.0 920.6,431.2 920.9,431.5 921.2,430.5 921.6,430.0 921.9,430.7 922.2,431.8 922.5,430.9 922.9,430.0 923.2,430.0 923.5,430.3 923.8,429.6 924.1,431.3 924.5,431.2 924.8,429.1 925.1,430.1 925.4,430.6 925.7,430.8 926.1,432.1 926.4,430.0 926.7,431.7 927.0,431.7 927.3,430.6 927.7,429.6 928.0,430.8 928.3,430.3 928.6,430.8 929.0,430.3 929.3,431.5 929.6,429.3 929.9,431.1 930.2,430.2 930.6,431.8 930.9,429.6 931.2,430.4 931.5,429.4 931.8,431.0 932.2,430.0 932.5,430.7 932.8,430.6 933.1,429.8 933.5,431.1 933.8,430.1 934.1,429.4 934.4,429.5 934.7,429.9 935.1,430.4 935.4,431.2 935.7,429.7 936.0,430.9 936.3,429.8 936.7,430.7 937.0,430.5 937.3,430.6 937.6,430.2 937.9,430.9 938.3,430.5 938.6,430.9 938.9,430.3 939.2,430.5 939.6,430.3 939.9,431.1 940.2,430.5 940.5,430.6 940.8,430.3 941.2,430.6 941.5,431.2 941.8,430.2 942.1,431.1 942.4,430.5 942.8,432.0 943.1,430.4 943.4,430.3 943.7,431.3 944.0,430.3 944.4,430.9 944.7,429.9 945.0,430.4 945.3,431.5 945.7,430.8 946.0,431.8 946.3,430.9 946.6,430.4 946.9,430.2 947.3,430.8 947.6,430.9 947.9,430.7 948.2,431.1 948.5,430.5 948.9,430.0 949.2,430.6 949.5,430.2 949.8,431.2 950.2,429.0 950.5,430.5 950.8,429.5 951.1,429.5 951.4,429.7 951.8,430.7 952.1,430.0 952.4,431.8 952.7,430.4 953.0,432.0 953.4,429.9 953.7,430.3 954.0,429.9 954.3,430.3 954.6,430.9 955.0,431.0 955.3,430.5 955.6,429.7 955.9,430.2 956.3,430.9 956.6,431.0 956.9,431.1 957.2,430.8 957.5,430.7 957.9,430.9 958.2,430.6 958.5,431.6 958.8,429.7 959.1,430.5 959.5,429.7 959.8,430.4 960.1,430.7 960.4,430.6 960.8,430.5 961.1,431.0 961.4,430.9 961.7,429.5 962.0,430.1 962.4,431.0 962.7,430.3 963.0,431.2 963.3,429.8 963.6,431.2 964.0,430.1 964.3,430.6 964.6,430.6 964.9,431.1 965.2,430.8 965.6,431.1 965.9,431.2 966.2,430.4 966.5,429.2 966.9,430.9 967.2,430.1 967.5,430.7 967.8,431.2 968.1,429.9 968.5,430.3 968.8,430.1 969.1,430.7 969.4,430.6 969.7,431.2"/>
<polyline fill="none" stroke="#555555" stroke-width="3.9" stroke-linejoin="round" points="92.9,594.5 93.2,599.1 93.5,596.1 93.8,597.1 94.2,596.9 94.5,596.7 94.8,598.5 95.1,596.7 95.4,597.4 95.8,593.3 96.1,596.4 96.4,596.9 96.7,596.9 97.0,597.3 97.4,597.7 97.7,597.0 98.0,596.1 98.3,596.9 98.7,595.7 99.0,596.9 99.3,596.6 99.6,595.1 99.9,596.1 100.3,597.2 100.6,596.9 100.9,596.1 101.2,594.7 101.5,596.9 101.9,596.9 102.2,593.1 102.5,597.6 102.8,597.0 103.1,595.9 103.5,596.2 103.8,596.7 104.1,596.2 104.4,599.8 104.8,595.9 105.1,597.8 105.4,598.6 105.7,596.7 106.0,595.3 106.4,597.4 106.7,598.1 107.0,597.0 107.3,596.9 107.6,595.4 108.0,596.1 108.3,596.7 108.6,595.8 108.9,597.0 109.3,597.7 109.6,596.2 109.9,596.2 110.2,597.0 110.5,596.8 110.9,596.6 111.2,599.3 111.5,596.1 111.8,596.3 112.1,598.4 112.5,596.7 112.8,597.8 113.1,596.0 113.4,598.9 113.7,597.8 114.1,596.1 114.4,595.6 114.7,598.9 115.0,597.2 115.4,596.3 115.7,597.3 116.0,592.6 116.3,597.8 116.6,596.3 117.0,597.8 117.3,595.3 117.6,596.3 117.9,597.0 118.2,598.4 118.6,595.0 118.9,595.8 119.2,594.7 119.5,595.5 119.9,596.3 120.2,597.3 120.5,597.4 120.8,597.4 121.1,595.2 121.5,598.1 121.8,597.3 122.1,597.0 122.4,595.9 122.7,595.0 123.1,597.9 123.4,598.3 123.7,596.5 124.0,594.6 124.3,595.9 124.7,596.4 125.0,593.9 125.3,596.4 125.6,596.9 126.0,595.8 126.3,597.5 126.6,596.6 126.9,596.9 127.2,596.3 127.6,596.6 127.9,594.3 128.2,595.4 128.5,595.4 128.8,598.9 129.2,597.2 129.5,597.5 129.8,596.3 130.1,599.1 130.5,595.7 130.8,595.8 131.1,598.2 131.4,597.8 131.7,597.6 132.1,596.8 132.4,596.2 132.7,593.4 133.0,596.9 133.3,596.0 133.7,596.6 134.0,595.0 134.3,596.1 134.6,595.5 134.9,597.9 135.3,597.0 135.6,597.6 135.9,595.3 136.2,596.1 136.6,597.0 136.9,597.1 137.2,596.2 137.5,597.3 137.8,596.9 138.2,596.2 138.5,594.3 138.8,596.9 139.1,597.2 139.4,597.8 139.8,598.0 140.1,596.2 140.4,595.8 140.7,596.5 141.0,596.2 141.4,596.4 141.7,596.4 142.0,598.1 142.3,597.0 142.7,596.5 143.0,597.4 143.3,597.1 143.6,597.4 143.9,596.9 144.3,595.7 144.6,596.9 144.9,596.6 145.2,595.7 145.5,595.8 145.9,594.7 146.2,598.5 146.5,593.2 146.8,596.8 147.2,596.2 147.5,595.3 147.8,595.4 148.1,595.6 148.4,596.5 148.8,595.1 149.1,596.9 149.4,596.1 149.7,595.8 150.0,597.1 150.4,594.3 150.7,595.5 151.0,594.4 151.3,596.6 151.6,597.0 152.0,596.4 152.3,595.8 152.6,597.1 152.9,596.2 153.3,596.6 153.6,595.0 153.9,597.2 154.2,595.6 154.5,597.3 154.9,597.6 155.2,597.4 155.5,597.9 155.8,596.6 156.1,595.8 156.5,596.7 156.8,596.2 157.1,595.1 157.4,592.1 157.8,596.6 158.1,597.1 158.4,598.4 158.7,595.8 159.0,598.5 159.4,596.2 159.7,596.8 160.0,595.6 160.3,596.8 160.6,597.6 161.0,596.4 161.3,597.3 161.6,596.9 161.9,596.6 162.2,593.1 162.6,596.8 162.9,597.6 163.2,596.9 163.5,598.8 163.9,596.8 164.2,597.8 164.5,595.5 164.8,595.3 165.1,598.6 165.5,596.5 165.8,596.8 166.1,597.6 166.4,596.0 166.7,596.9 167.1,598.2 167.4,596.7 167.7,596.5 168.0,596.3 168.4,597.6 168.7,595.8 169.0,595.7 169.3,597.6 169.6,597.1 170.0,596.5 170.3,597.0 170.6,594.6 170.9,596.1 171.2,597.3 171.6,597.1 171.9,596.4 172.2,594.0 172.5,595.5 172.8,596.2 173.2,595.8 173.5,596.3 173.8,593.9 174.1,596.7 174.5,595.3 174.8,595.9 175.1,595.5 175.4,597.2 175.7,594.2 176.1,596.1 176.4,596.0 176.7,596.9 177.0,596.1 177.3,595.2 177.7,594.8 178.0,595.0 178.3,594.6 178.6,595.2 179.0,595.9 179.3,595.1 179.6,595.2 179.9,595.8 180.2,595.0 180.6,594.3 180.9,595.3 181.2,595.8 181.5,594.6 181.8,593.4 182.2,595.3 182.5,595.0 182.8,595.0 183.1,593.5 183.4,596.4 183.8,593.8 184.1,592.8 184.4,594.5 184.7,591.7 185.1,592.3 185.4,593.0 185.7,591.6 186.0,592.6 186.3,590.7 186.7,585.8 187.0,588.5 187.3,583.8 187.6,583.9 187.9,580.4 188.3,579.0 188.6,579.0 188.9,573.8 189.2,571.6 189.6,571.5 189.9,570.9 190.2,569.1 190.5,571.6 190.8,574.7 191.2,575.9 191.5,576.6 191.8,580.6 192.1,581.4 192.4,582.9 192.8,586.3 193.1,588.4 193.4,590.6 193.7,590.3 194.0,590.2 194.4,591.4 194.7,591.7 195.0,593.3 195.3,592.6 195.7,593.9 196.0,594.1 196.3,595.3 196.6,595.8 196.9,594.8 197.3,595.6 197.6,595.5 197.9,593.8 198.2,594.7 198.5,591.7 198.9,593.8 199.2,595.4 199.5,594.1 199.8,594.5 200.2,595.6 200.5,593.9 200.8,595.8 201.1,598.2 201.4,594.4 201.8,595.9 202.1,593.7 202.4,595.9 202.7,596.6 203.0,592.2 203.4,596.5 203.7,595.3 204.0,594.1 204.3,595.4 204.6,595.6 205.0,595.5 205.3,594.8 205.6,596.4 205.9,595.0 206.3,595.1 206.6,593.3 206.9,596.1 207.2,596.7 207.5,595.1 207.9,596.3 208.2,595.6 208.5,595.7 208.8,594.6 209.1,596.4 209.5,595.8 209.8,598.3 210.1,596.6 210.4,594.3 210.8,596.5 211.1,596.4 211.4,597.0 211.7,595.2 212.0,595.6 212.4,597.0 212.7,595.2 213.0,595.6 213.3,595.1 213.6,596.5 214.0,594.2 214.3,595.4 214.6,591.8 214.9,596.3 215.2,596.0 215.6,594.9 215.9,596.1 216.2,594.7 216.5,595.2 216.9,592.7 217.2,595.1 217.5,596.0 217.8,597.9 218.1,595.6 218.5,595.2 218.8,595.8 219.1,595.4 219.4,596.5 219.7,596.4 220.1,596.8 220.4,594.4 220.7,595.6 221.0,596.3 221.3,597.2 221.7,596.0 222.0,594.4 222.3,595.4 222.6,596.6 223.0,594.4 223.3,594.4 223.6,594.8 223.9,595.0 224.2,592.8 224.6,593.2 224.9,595.0 225.2,596.5 225.5,594.1 225.8,595.3 226.2,593.4 226.5,597.4 226.8,594.6 227.1,594.3 227.5,595.6 227.8,594.9 228.1,594.6 228.4,594.6 228.7,595.7 229.1,595.1 229.4,593.8 229.7,592.3 230.0,593.9 230.3,593.9 230.7,593.2 231.0,591.7 231.3,593.1 231.6,590.7 231.9,590.3 232.3,590.7 232.6,589.4 232.9,587.9 233.2,586.7 233.6,587.8 233.9,585.5 234.2,588.3 234.5,586.0 234.8,589.0 235.2,589.3 235.5,588.2 235.8,590.2 236.1,591.6 236.4,591.9 236.8,591.8 237.1,592.9 237.4,593.5 237.7,592.9 238.1,591.3 238.4,595.2 238.7,595.5 239.0,594.0 239.3,594.4 239.7,594.3 240.0,595.8 240.3,594.3 240.6,595.0 240.9,596.3 241.3,595.1 241.6,595.2 241.9,596.6 242.2,596.0 242.5,596.1 242.9,594.2 243.2,593.4 243.5,596.0 243.8,596.0 244.2,598.2 244.5,595.8 244.8,596.1 245.1,597.2 245.4,595.5 245.8,597.8 246.1,596.5 246.4,596.2 246.7,597.6 247.0,595.3 247.4,595.1 247.7,597.5 248.0,597.5 248.3,595.5 248.7,596.1 249.0,597.3 249.3,596.4 249.6,596.1 249.9,596.2 250.3,595.2 250.6,595.6 250.9,594.3 251.2,594.7 251.5,595.4 251.9,594.9 252.2,594.7 252.5,595.3 252.8,597.2 253.1,595.1 253.5,595.9 253.8,592.6 254.1,595.9 254.4,595.5 254.8,595.7 255.1,594.3 255.4,595.8 255.7,596.3 256.0,593.4 256.4,596.5 256.7,592.1 257.0,596.1 257.3,595.8 257.6,594.3 258.0,596.7 258.3,596.2 258.6,596.4 258.9,595.5 259.3,597.3 259.6,597.0 259.9,596.3 260.2,595.8 260.5,596.4 260.9,596.9 261.2,597.2 261.5,595.9 261.8,594.9 262.1,596.1 262.5,596.2 262.8,595.9 263.1,597.3 263.4,596.7 263.7,596.6 264.1,596.1 264.4,596.4 264.7,597.6 265.0,595.3 265.4,594.7 265.7,596.6 266.0,596.0 266.3,596.2 266.6,595.7 267.0,598.1 267.3,595.0 267.6,597.1 267.9,595.3 268.2,596.5 268.6,596.9 268.9,596.6 269.2,595.1 269.5,595.9 269.9,593.3 270.2,591.3 270.5,593.3 270.8,592.6 271.1,595.1 271.5,596.3 271.8,595.3 272.1,597.5 272.4,596.6 272.7,594.9 273.1,595.6 273.4,598.9 273.7,600.0 274.0,593.4 274.3,595.6 274.7,597.3 275.0,597.0 275.3,596.1 275.6,597.6 276.0,596.5 276.3,595.9 276.6,593.7 276.9,596.3 277.2,597.3 277.6,592.1 277.9,597.2 278.2,595.5 278.5,594.2 278.8,597.4 279.2,598.8 279.5,597.1 279.8,596.4 280.1,595.7 280.5,595.7 280.8,597.5 281.1,597.5 281.4,595.5 281.7,597.8 282.1,595.7 282.4,597.0 282.7,596.1 283.0,596.1 283.3,596.0 283.7,596.0 284.0,597.8 284.3,596.5 284.6,596.7 284.9,596.3 285.3,595.5 285.6,596.9 285.9,597.3 286.2,597.1 286.6,596.6 286.9,595.4 287.2,596.9 287.5,594.8 287.8,595.5 288.2,595.9 288.5,596.9 288.8,595.2 289.1,594.5 289.4,596.8 289.8,593.5 290.1,592.9 290.4,594.0 290.7,593.5 291.1,591.2 291.4,592.1 291.7,593.9 292.0,592.8 292.3,591.9 292.7,592.2 293.0,594.3 293.3,589.4 293.6,592.0 293.9,590.9 294.3,591.1 294.6,589.7 294.9,591.1 295.2,591.7 295.5,590.3 295.9,589.5 296.2,591.4 296.5,589.8 296.8,591.1 297.2,592.2 297.5,590.3 297.8,593.0 298.1,591.4 298.4,593.3 298.8,592.6 299.1,594.6 299.4,594.4 299.7,592.7 300.0,593.9 300.4,594.2 300.7,594.9 301.0,594.3 301.3,596.3 301.6,596.2 302.0,595.3 302.3,594.9 302.6,596.2 302.9,595.6 303.3,595.7 303.6,595.9 303.9,594.1 304.2,594.8 304.5,594.6 304.9,595.9 305.2,596.4 305.5,597.4 305.8,596.3 306.1,598.2 306.5,596.7 306.8,595.3 307.1,594.5 307.4,595.1 307.8,597.0 308.1,595.6 308.4,596.9 308.7,595.3 309.0,596.2 309.4,595.2 309.7,593.5 310.0,595.1 310.3,593.7 310.6,595.9 311.0,596.5 311.3,594.7 311.6,594.4 311.9,596.7 312.2,596.0 312.6,597.6 312.9,596.2 313.2,595.2 313.5,596.2 313.9,596.2 314.2,597.5 314.5,595.6 314.8,595.1 315.1,595.2 315.5,595.7 315.8,597.3 316.1,594.2 316.4,596.0 316.7,596.1 317.1,595.0 317.4,598.0 317.7,595.8 318.0,595.8 318.4,595.3 318.7,594.3 319.0,595.2 319.3,597.4 319.6,596.0 320.0,595.4 320.3,595.4 320.6,596.8 320.9,597.1 321.2,594.9 321.6,594.9 321.9,595.3 322.2,597.0 322.5,593.4 322.8,598.0 323.2,595.2 323.5,592.6 323.8,594.8 324.1,593.9 324.5,595.6 324.8,592.8 325.1,595.4 325.4,593.5 325.7,593.4 326.1,594.5 326.4,592.1 326.7,594.2 327.0,593.1 327.3,592.1 327.7,592.1 328.0,590.6 328.3,589.6 328.6,590.1 329.0,589.4 329.3,588.3 329.6,586.8 329.9,583.5 330.2,582.0 330.6,577.8 330.9,573.6 331.2,568.4 331.5,558.5 331.8,551.3 332.2,537.9 332.5,522.4 332.8,510.7 333.1,493.8 333.4,479.7 333.8,465.2 334.1,456.8 334.4,449.8 334.7,451.6 335.1,455.4 335.4,467.3 335.7,484.4 336.0,499.7 336.3,516.4 336.7,531.1 337.0,544.5 337.3,556.5 337.6,562.1 337.9,567.8 338.3,574.6 338.6,579.7 338.9,580.4 339.2,584.8 339.6,586.7 339.9,588.6 340.2,589.3 340.5,589.2 340.8,587.4 341.2,590.3 341.5,591.5 341.8,590.6 342.1,591.3 342.4,592.6 342.8,591.3 343.1,590.9 343.4,591.4 343.7,590.0 344.0,593.2 344.4,593.7 344.7,584.7 345.0,590.9 345.3,593.5 345.7,591.6 346.0,591.7 346.3,591.0 346.6,591.0 346.9,591.4 347.3,590.3 347.6,589.9 347.9,589.5 348.2,590.6 348.5,590.7 348.9,586.8 349.2,583.0 349.5,581.1 349.8,577.3 350.2,572.1 350.5,568.3 350.8,562.1 351.1,553.3 351.4,547.4 351.8,535.9 352.1,526.6 352.4,518.1 352.7,508.2 353.0,505.6 353.4,500.0 353.7,503.5 354.0,507.2 354.3,514.3 354.6,520.5 355.0,532.0 355.3,540.0 355.6,550.5 355.9,555.9 356.3,562.3 356.6,570.4 356.9,573.8 357.2,579.2 357.5,580.5 357.9,585.3 358.2,588.9 358.5,587.0 358.8,589.9 359.1,591.7 359.5,591.9 359.8,593.4 360.1,592.3 360.4,593.6 360.8,591.3 361.1,591.3 361.4,594.9 361.7,595.0 362.0,594.2 362.4,595.8 362.7,594.0 363.0,594.1 363.3,595.0 363.6,593.5 364.0,594.0 364.3,591.5 364.6,593.1 364.9,594.7 365.2,594.0 365.6,595.7 365.9,594.7 366.2,596.1 366.5,594.5 366.9,596.6 367.2,596.3 367.5,595.4 367.8,594.9 368.1,596.9 368.5,593.9 368.8,595.4 369.1,595.3 369.4,596.5 369.7,595.6 370.1,595.8 370.4,594.2 370.7,595.0 371.0,596.9 371.4,597.8 371.7,595.3 372.0,594.5 372.3,595.6 372.6,594.8 373.0,596.2 373.3,597.0 373.6,592.9 373.9,595.6 374.2,595.0 374.6,597.1 374.9,595.6 375.2,596.4 375.5,594.9 375.8,596.3 376.2,596.4 376.5,596.4 376.8,590.9 377.1,595.9 377.5,596.8 377.8,597.0 378.1,596.9 378.4,594.4 378.7,597.8 379.1,596.9 379.4,595.4 379.7,594.9 380.0,596.2 380.3,595.2 380.7,595.2 381.0,595.1 381.3,596.1 381.6,594.4 381.9,595.8 382.3,594.5 382.6,597.2 382.9,595.1 383.2,597.3 383.6,597.5 383.9,595.5 384.2,596.8 384.5,595.5 384.8,597.0 385.2,594.4 385.5,596.0 385.8,597.1 386.1,595.5 386.4,595.1 386.8,596.7 387.1,595.5 387.4,594.0 387.7,595.1 388.1,596.0 388.4,596.7 388.7,595.5 389.0,597.6 389.3,599.2 389.7,596.8 390.0,597.2 390.3,594.4 390.6,595.9 390.9,596.3 391.3,597.3 391.6,595.6 391.9,597.0 392.2,596.7 392.5,596.2 392.9,596.1 393.2,596.1 393.5,596.0 393.8,594.8 394.2,594.4 394.5,597.8 394.8,593.4 395.1,595.1 395.4,594.9 395.8,596.9 396.1,595.8 396.4,595.9 396.7,595.9 397.0,593.4 397.4,595.5 397.7,597.1 398.0,596.3 398.3,595.4 398.7,594.2 399.0,596.4 399.3,596.4 399.6,596.3 399.9,597.3 400.3,597.5 400.6,594.6 400.9,596.5 401.2,596.0 401.5,596.8 401.9,594.7 402.2,594.2 402.5,596.2 402.8,595.4 403.1,596.7 403.5,594.1 403.8,594.9 404.1,596.6 404.4,594.5 404.8,595.4 405.1,593.8 405.4,594.5 405.7,596.4 406.0,596.3 406.4,595.0 406.7,595.6 407.0,596.6 407.3,593.5 407.6,595.7 408.0,596.0 408.3,596.1 408.6,594.6 408.9,594.3 409.3,595.0 409.6,594.4 409.9,596.8 410.2,595.5 410.5,595.5 410.9,594.9 411.2,594.3 411.5,596.8 411.8,591.5 412.1,595.4 412.5,594.0 412.8,593.4 413.1,593.2 413.4,593.6 413.7,596.6 414.1,594.4 414.4,592.2 414.7,593.4 415.0,593.1 415.4,593.8 415.7,589.3 416.0,589.0 416.3,589.1 416.6,586.8 417.0,584.8 417.3,583.5 417.6,579.8 417.9,576.1 418.2,571.0 418.6,567.5 418.9,564.9 419.2,561.5 419.5,556.6 419.9,554.7 420.2,553.1 420.5,548.6 420.8,550.7 421.1,551.3 421.5,553.2 421.8,558.8 422.1,560.5 422.4,564.8 422.7,569.6 423.1,572.8 423.4,577.6 423.7,582.4 424.0,582.9 424.3,585.8 424.7,585.8 425.0,588.0 425.3,590.1 425.6,590.6 426.0,590.1 426.3,591.0 426.6,592.4 426.9,592.7 427.2,593.9 427.6,594.0 427.9,593.6 428.2,594.5 428.5,594.3 428.8,595.8 429.2,596.5 429.5,596.6 429.8,595.4 430.1,593.8 430.5,594.0 430.8,596.3 431.1,597.0 431.4,594.6 431.7,595.0 432.1,596.9 432.4,594.6 432.7,595.3 433.0,594.5 433.3,595.4 433.7,593.7 434.0,595.5 434.3,596.8 434.6,596.1 434.9,596.7 435.3,595.2 435.6,594.4 435.9,597.6 436.2,594.8 436.6,594.9 436.9,593.7 437.2,595.0 437.5,597.6 437.8,596.9 438.2,595.3 438.5,596.2 438.8,598.4 439.1,596.2 439.4,596.0 439.8,597.2 440.1,596.3 440.4,592.9 440.7,596.4 441.1,595.4 441.4,595.4 441.7,596.0 442.0,595.9 442.3,596.7 442.7,595.0 443.0,596.7 443.3,594.5 443.6,595.6 443.9,597.0 444.3,595.8 444.6,595.2 444.9,596.1 445.2,596.1 445.5,595.3 445.9,595.3 446.2,597.6 446.5,597.4 446.8,594.8 447.2,595.1 447.5,598.2 447.8,597.4 448.1,596.1 448.4,597.1 448.8,595.7 449.1,596.1 449.4,595.6 449.7,597.3 450.0,595.5 450.4,594.2 450.7,593.8 451.0,595.0 451.3,595.3 451.7,595.6 452.0,596.4 452.3,597.5 452.6,597.3 452.9,595.7 453.3,595.5 453.6,595.2 453.9,595.5 454.2,595.5 454.5,596.8 454.9,597.7 455.2,596.2 455.5,595.9 455.8,596.4 456.1,598.1 456.5,597.1 456.8,598.1 457.1,596.4 457.4,597.6 457.8,596.7 458.1,596.2 458.4,596.4 458.7,595.2 459.0,597.8 459.4,598.8 459.7,595.7 460.0,595.3 460.3,595.3 460.6,596.4 461.0,596.2 461.3,596.7 461.6,598.1 461.9,597.4 462.2,596.4 462.6,597.5 462.9,595.1 463.2,598.6 463.5,597.5 463.9,596.0 464.2,597.1 464.5,598.1 464.8,598.4 465.1,597.8 465.5,595.5 465.8,596.6 466.1,596.6 466.4,597.5 466.7,596.2 467.1,595.9 467.4,597.9 467.7,597.4 468.0,596.8 468.4,595.8 468.7,597.0 469.0,596.5 469.3,595.0 469.6,597.8 470.0,598.2 470.3,595.8 470.6,596.4 470.9,597.0 471.2,596.6 471.6,597.2 471.9,596.4 472.2,597.3 472.5,596.1 472.8,598.1 473.2,597.6 473.5,596.7 473.8,597.4 474.1,596.2 474.5,596.9 474.8,597.1 475.1,596.6 475.4,597.3 475.7,598.4 476.1,597.7 476.4,597.5 476.7,597.2 477.0,596.6 477.3,593.8 477.7,596.1 478.0,594.9 478.3,590.8 478.6,596.9 479.0,595.0 479.3,595.4 479.6,597.1 479.9,592.6 480.2,595.5 480.6,596.3 480.9,595.6 481.2,596.2 481.5,595.8 481.8,596.8 482.2,596.0 482.5,596.7 482.8,595.7 483.1,598.2 483.4,596.2 483.8,593.8 484.1,596.0 484.4,596.7 484.7,596.3 485.1,597.6 485.4,597.6 485.7,597.2 486.0,597.0 486.3,595.9 486.7,597.8 487.0,595.9 487.3,598.4 487.6,592.2 487.9,596.8 488.3,595.6 488.6,597.4 488.9,598.9 489.2,596.3 489.6,596.8 489.9,597.8 490.2,597.8 490.5,596.5 490.8,596.6 491.2,596.0 491.5,598.1 491.8,594.3 492.1,596.7 492.4,597.1 492.8,596.1 493.1,596.5 493.4,594.3 493.7,595.6 494.0,597.1 494.4,597.1 494.7,597.2 495.0,597.0 495.3,596.1 495.7,597.4 496.0,595.2 496.3,596.9 496.6,596.9 496.9,595.8 497.3,598.7 497.6,597.6 497.9,596.0 498.2,596.6 498.5,596.6 498.9,596.2 499.2,597.2 499.5,594.0 499.8,597.9 500.2,598.4 500.5,595.3 500.8,597.6 501.1,597.4 501.4,595.3 501.8,593.8 502.1,596.8 502.4,597.1 502.7,596.7 503.0,597.5 503.4,596.0 503.7,596.3 504.0,596.2 504.3,595.6 504.6,595.6 505.0,594.4 505.3,594.7 505.6,597.9 505.9,595.4 506.3,597.3 506.6,597.6 506.9,595.5 507.2,597.0 507.5,596.6 507.9,595.2 508.2,596.0 508.5,597.2 508.8,596.0 509.1,595.1 509.5,595.8 509.8,597.9 510.1,597.0 510.4,596.6 510.8,594.5 511.1,595.6 511.4,595.6 511.7,595.2 512.0,596.7 512.4,595.9 512.7,595.9 513.0,597.4 513.3,595.4 513.6,595.8 514.0,597.5 514.3,595.6 514.6,595.7 514.9,595.5 515.2,597.2 515.6,596.2 515.9,595.0 516.2,595.6 516.5,597.2 516.9,596.2 517.2,595.0 517.5,593.0 517.8,596.0 518.1,593.9 518.5,596.5 518.8,596.7 519.1,597.6 519.4,597.2 519.7,595.0 520.1,596.6 520.4,596.5 520.7,596.1 521.0,596.5 521.4,595.7 521.7,597.3 522.0,595.7 522.3,597.0 522.6,596.1 523.0,595.9 523.3,595.8 523.6,596.8 523.9,596.5 524.2,595.8 524.6,597.6 524.9,596.2 525.2,595.8 525.5,595.3 525.8,596.4 526.2,596.4 526.5,596.1 526.8,595.8 527.1,596.6 527.5,596.0 527.8,596.2 528.1,597.4 528.4,596.7 528.7,598.5 529.1,595.6 529.4,596.9 529.7,596.1 530.0,597.5 530.3,596.5 530.7,596.0 531.0,595.5 531.3,597.8 531.6,595.6 532.0,596.7 532.3,597.3 532.6,596.0 532.9,596.8 533.2,596.8 533.6,597.1 533.9,596.2 534.2,596.3 534.5,596.5 534.8,597.4 535.2,596.8 535.5,596.0 535.8,595.1 536.1,596.5 536.4,595.1 536.8,596.4 537.1,597.5 537.4,595.7 537.7,597.3 538.1,595.9 538.4,595.3 538.7,592.2 539.0,596.5 539.3,593.9 539.7,596.0 540.0,596.0 540.3,595.4 540.6,596.2 540.9,596.1 541.3,595.6 541.6,598.4 541.9,594.7 542.2,597.3 542.5,596.9 542.9,595.7 543.2,596.2 543.5,597.5 543.8,596.0 544.2,597.3 544.5,596.8 544.8,597.7 545.1,597.0 545.4,595.7 545.8,596.2 546.1,595.8 546.4,595.2 546.7,596.0 547.0,596.5 547.4,596.1 547.7,594.0 548.0,595.5 548.3,595.1 548.7,595.3 549.0,594.9 549.3,594.6 549.6,594.9 549.9,594.8 550.3,594.9 550.6,594.5 550.9,592.7 551.2,591.5 551.5,590.4 551.9,590.2 552.2,589.6 552.5,586.7 552.8,585.1 553.1,585.6 553.5,581.4 553.8,580.0 554.1,577.7 554.4,580.3 554.8,580.6 555.1,579.2 555.4,583.3 555.7,583.8 556.0,586.0 556.4,587.7 556.7,590.4 557.0,590.0 557.3,590.0 557.6,591.6 558.0,592.5 558.3,594.0 558.6,592.8 558.9,594.2 559.3,594.0 559.6,596.9 559.9,595.2 560.2,596.9 560.5,595.6 560.9,595.8 561.2,597.1 561.5,595.9 561.8,595.0 562.1,595.7 562.5,595.7 562.8,597.2 563.1,597.0 563.4,597.5 563.7,596.2 564.1,595.2 564.4,596.0 564.7,596.4 565.0,597.6 565.4,596.1 565.7,595.0 566.0,598.5 566.3,598.3 566.6,597.0 567.0,597.7 567.3,595.1 567.6,596.8 567.9,598.0 568.2,597.4 568.6,595.2 568.9,597.7 569.2,596.0 569.5,596.4 569.9,594.2 570.2,596.4 570.5,597.3 570.8,596.4 571.1,596.9 571.5,596.0 571.8,597.0 572.1,595.0 572.4,597.1 572.7,596.6 573.1,597.7 573.4,597.0 573.7,597.2 574.0,597.1 574.3,596.2 574.7,597.6 575.0,597.9 575.3,596.0 575.6,595.6 576.0,597.7 576.3,595.9 576.6,596.2 576.9,599.5 577.2,597.2 577.6,596.0 577.9,595.9 578.2,597.2 578.5,595.0 578.8,597.4 579.2,596.8 579.5,596.4 579.8,596.5 580.1,595.7 580.5,595.5 580.8,596.5 581.1,595.1 581.4,597.2 581.7,596.8 582.1,594.9 582.4,596.5 582.7,595.5 583.0,597.0 583.3,596.8 583.7,596.7 584.0,596.4 584.3,596.9 584.6,596.5 584.9,595.9 585.3,595.4 585.6,596.5 585.9,591.5 586.2,595.7 586.6,597.7 586.9,598.2 587.2,595.1 587.5,595.4 587.8,596.7 588.2,596.4 588.5,597.7 588.8,598.1 589.1,596.4 589.4,598.2 589.8,595.9 590.1,597.4 590.4,596.4 590.7,594.7 591.1,594.8 591.4,597.0 591.7,595.6 592.0,597.7 592.3,597.3 592.7,596.3 593.0,595.2 593.3,597.1 593.6,596.1 593.9,596.6 594.3,597.9 594.6,596.8 594.9,595.1 595.2,595.1 595.5,596.0 595.9,595.4 596.2,597.3 596.5,595.4 596.8,595.1 597.2,593.4 597.5,595.4 597.8,597.2 598.1,597.3 598.4,597.6 598.8,597.7 599.1,597.6 599.4,595.8 599.7,595.3 600.0,597.4 600.4,596.0 600.7,598.0 601.0,596.9 601.3,597.6 601.7,598.2 602.0,596.6 602.3,596.6 602.6,597.0 602.9,597.1 603.3,597.6 603.6,596.7 603.9,597.1 604.2,596.1 604.5,597.6 604.9,596.1 605.2,595.8 605.5,595.0 605.8,595.3 606.1,596.0 606.5,596.8 606.8,598.0 607.1,596.1 607.4,594.7 607.8,594.5 608.1,598.7 608.4,597.0 608.7,596.5 609.0,597.1 609.4,595.9 609.7,596.1 610.0,596.7 610.3,596.2 610.6,597.8 611.0,597.2 611.3,597.1 611.6,595.3 611.9,597.9 612.3,596.5 612.6,595.6 612.9,596.4 613.2,595.6 613.5,595.5 613.9,595.9 614.2,595.4 614.5,594.2 614.8,595.8 615.1,595.0 615.5,596.4 615.8,596.2 616.1,590.6 616.4,595.7 616.7,594.9 617.1,595.7 617.4,594.2 617.7,593.9 618.0,597.1 618.4,594.3 618.7,595.6 619.0,595.8 619.3,596.3 619.6,595.4 620.0,597.3 620.3,596.9 620.6,596.9 620.9,595.8 621.2,595.2 621.6,595.4 621.9,595.8 622.2,596.7 622.5,597.9 622.8,595.8 623.2,596.1 623.5,596.0 623.8,594.8 624.1,596.4 624.5,596.5 624.8,598.6 625.1,595.7 625.4,596.4 625.7,597.1 626.1,595.9 626.4,597.4 626.7,596.9 627.0,594.4 627.3,595.7 627.7,595.4 628.0,595.6 628.3,595.8 628.6,596.3 629.0,594.1 629.3,596.6 629.6,595.8 629.9,596.7 630.2,596.9 630.6,598.7 630.9,598.5 631.2,595.0 631.5,595.0 631.8,596.9 632.2,596.5 632.5,595.9 632.8,597.5 633.1,594.8 633.4,597.5 633.8,597.2 634.1,598.9 634.4,594.5 634.7,596.4 635.1,594.9 635.4,597.4 635.7,596.1 636.0,596.3 636.3,596.2 636.7,594.3 637.0,594.2 637.3,595.1 637.6,596.9 637.9,595.7 638.3,595.2 638.6,596.1 638.9,596.1 639.2,596.2 639.6,597.5 639.9,596.4 640.2,595.1 640.5,597.7 640.8,596.7 641.2,596.0 641.5,598.2 641.8,596.9 642.1,598.5 642.4,597.4 642.8,598.3 643.1,597.9 643.4,597.5 643.7,597.3 644.0,597.3 644.4,599.5 644.7,595.6 645.0,597.5 645.3,597.4 645.7,597.8 646.0,596.9 646.3,598.2 646.6,597.6 646.9,597.7 647.3,596.8 647.6,598.0 647.9,596.8 648.2,596.9 648.5,597.3 648.9,595.9 649.2,597.1 649.5,598.3 649.8,596.9 650.2,597.0 650.5,593.2 650.8,596.9 651.1,594.8 651.4,596.9 651.8,596.7 652.1,597.4 652.4,595.8 652.7,597.3 653.0,597.9 653.4,598.3 653.7,596.6 654.0,594.2 654.3,598.7 654.6,597.8 655.0,596.5 655.3,596.2 655.6,598.5 655.9,597.6 656.3,596.4 656.6,597.7 656.9,597.6 657.2,597.6 657.5,598.3 657.9,596.9 658.2,596.7 658.5,598.4 658.8,597.0 659.1,595.9 659.5,596.7 659.8,594.4 660.1,597.4 660.4,595.5 660.8,597.5 661.1,594.9 661.4,593.7 661.7,597.4 662.0,597.5 662.4,593.6 662.7,597.1 663.0,597.3 663.3,596.8 663.6,595.8 664.0,594.7 664.3,596.7 664.6,594.9 664.9,597.3 665.2,597.3 665.6,597.3 665.9,595.6 666.2,597.7 666.5,597.0 666.9,594.9 667.2,594.4 667.5,594.9 667.8,597.8 668.1,596.3 668.5,595.4 668.8,596.1 669.1,597.7 669.4,596.5 669.7,597.9 670.1,597.4 670.4,594.0 670.7,595.5 671.0,597.6 671.4,597.6 671.7,594.9 672.0,596.7 672.3,595.6 672.6,596.8 673.0,596.4 673.3,595.9 673.6,597.3 673.9,598.2 674.2,597.5 674.6,596.6 674.9,595.5 675.2,596.3 675.5,596.4 675.8,595.8 676.2,596.5 676.5,594.9 676.8,594.3 677.1,596.0 677.5,594.9 677.8,595.1 678.1,595.6 678.4,596.2 678.7,596.6 679.1,597.2 679.4,593.7 679.7,595.8 680.0,595.4 680.3,597.6 680.7,596.6 681.0,596.3 681.3,596.9 681.6,597.3 682.0,596.9 682.3,596.3 682.6,596.5 682.9,596.3 683.2,594.4 683.6,595.6 683.9,596.9 684.2,596.5 684.5,594.7 684.8,594.8 685.2,596.0 685.5,596.4 685.8,597.7 686.1,596.5 686.4,596.4 686.8,596.8 687.1,592.2 687.4,597.8 687.7,596.0 688.1,595.5 688.4,595.4 688.7,594.1 689.0,597.1 689.3,596.4 689.7,593.9 690.0,595.3 690.3,595.7 690.6,596.0 690.9,594.1 691.3,596.1 691.6,591.3 691.9,593.3 692.2,592.7 692.6,593.3 692.9,594.7 693.2,594.3 693.5,593.8 693.8,593.5 694.2,592.0 694.5,589.6 694.8,589.8 695.1,590.0 695.4,589.0 695.8,588.2 696.1,581.0 696.4,586.6 696.7,582.6 697.0,583.0 697.4,580.6 697.7,580.2 698.0,576.0 698.3,575.9 698.7,571.5 699.0,575.1 699.3,574.7 699.6,572.8 699.9,573.1 700.3,574.8 700.6,577.8 700.9,574.9 701.2,577.3 701.5,579.0 701.9,581.6 702.2,581.7 702.5,584.4 702.8,585.1 703.1,586.7 703.5,585.5 703.8,589.3 704.1,590.2 704.4,587.7 704.8,591.1 705.1,592.0 705.4,592.8 705.7,592.1 706.0,594.1 706.4,593.4 706.7,592.1 707.0,594.0 707.3,595.3 707.6,596.0 708.0,594.6 708.3,596.2 708.6,596.6 708.9,595.9 709.3,596.4 709.6,593.7 709.9,596.9 710.2,593.9 710.5,596.3 710.9,594.7 711.2,594.9 711.5,595.4 711.8,595.0 712.1,596.7 712.5,598.0 712.8,595.9 713.1,597.4 713.4,593.4 713.7,594.7 714.1,595.9 714.4,596.3 714.7,596.9 715.0,596.1 715.4,596.0 715.7,597.4 716.0,595.5 716.3,597.0 716.6,595.8 717.0,596.5 717.3,595.1 717.6,595.2 717.9,596.1 718.2,594.1 718.6,595.8 718.9,594.8 719.2,595.1 719.5,595.7 719.9,595.8 720.2,594.5 720.5,597.8 720.8,595.5 721.1,597.0 721.5,594.6 721.8,596.5 722.1,596.1 722.4,597.0 722.7,595.9 723.1,595.1 723.4,594.2 723.7,597.2 724.0,596.4 724.3,592.0 724.7,593.8 725.0,595.9 725.3,595.4 725.6,598.6 726.0,593.9 726.3,595.9 726.6,597.4 726.9,594.8 727.2,596.7 727.6,597.2 727.9,595.7 728.2,595.8 728.5,596.6 728.8,596.3 729.2,597.6 729.5,597.7 729.8,595.2 730.1,594.9 730.5,595.7 730.8,595.8 731.1,596.6 731.4,596.4 731.7,597.2 732.1,594.5 732.4,596.9 732.7,595.9 733.0,596.3 733.3,597.8 733.7,594.4 734.0,596.7 734.3,597.1 734.6,595.6 734.9,597.3 735.3,596.4 735.6,597.4 735.9,595.9 736.2,596.4 736.6,597.8 736.9,595.5 737.2,596.3 737.5,597.6 737.8,596.2 738.2,596.1 738.5,594.6 738.8,596.4 739.1,595.7 739.4,596.6 739.8,595.9 740.1,596.8 740.4,596.6 740.7,596.1 741.1,597.8 741.4,598.8 741.7,596.7 742.0,593.8 742.3,596.6 742.7,596.1 743.0,597.0 743.3,595.6 743.6,596.8 743.9,596.7 744.3,595.9 744.6,596.1 744.9,596.7 745.2,596.6 745.5,597.5 745.9,597.4 746.2,596.5 746.5,595.9 746.8,597.1 747.2,595.8 747.5,594.6 747.8,594.4 748.1,596.4 748.4,595.4 748.8,595.8 749.1,595.6 749.4,595.5 749.7,595.8 750.0,595.4 750.4,596.0 750.7,596.5 751.0,595.9 751.3,595.6 751.7,594.8 752.0,595.6 752.3,595.2 752.6,594.3 752.9,596.4 753.3,594.1 753.6,594.5 753.9,594.7 754.2,595.3 754.5,592.7 754.9,593.2 755.2,593.5 755.5,589.5 755.8,592.3 756.1,590.1 756.5,590.0 756.8,588.4 757.1,587.2 757.4,588.2 757.8,587.1 758.1,582.9 758.4,588.4 758.7,586.6 759.0,588.3 759.4,589.7 759.7,590.9 760.0,591.4 760.3,591.6 760.6,593.0 761.0,591.9 761.3,596.2 761.6,596.3 761.9,594.8 762.3,596.7 762.6,595.2 762.9,596.1 763.2,595.0 763.5,595.2 763.9,594.5 764.2,594.9 764.5,594.6 764.8,595.3 765.1,594.8 765.5,595.4 765.8,596.4 766.1,597.2 766.4,597.1 766.7,595.5 767.1,596.6 767.4,595.9 767.7,596.8 768.0,595.2 768.4,595.8 768.7,596.7 769.0,596.0 769.3,598.4 769.6,595.9 770.0,595.7 770.3,598.0 770.6,595.3 770.9,596.3 771.2,596.0 771.6,597.6 771.9,595.6 772.2,595.7 772.5,596.3 772.9,597.2 773.2,595.5 773.5,595.0 773.8,591.5 774.1,595.2 774.5,596.7 774.8,592.3 775.1,595.8 775.4,595.9 775.7,591.7 776.1,595.6 776.4,596.7 776.7,595.3 777.0,597.3 777.3,595.9 777.7,595.5 778.0,596.7 778.3,596.5 778.6,597.2 779.0,596.2 779.3,597.0 779.6,594.5 779.9,595.6 780.2,596.4 780.6,597.6 780.9,594.1 781.2,594.8 781.5,595.7 781.8,595.9 782.2,595.9 782.5,596.6 782.8,594.2 783.1,595.9 783.4,597.6 783.8,596.8 784.1,598.8 784.4,595.6 784.7,595.5 785.1,594.6 785.4,594.2 785.7,597.1 786.0,595.8 786.3,595.2 786.7,595.4 787.0,596.8 787.3,595.5 787.6,595.9 787.9,595.1 788.3,596.4 788.6,596.6 788.9,596.8 789.2,596.6 789.6,597.0 789.9,596.6 790.2,595.8 790.5,595.9 790.8,595.1 791.2,595.3 791.5,595.7 791.8,596.3 792.1,595.8 792.4,595.2 792.8,597.7 793.1,597.5 793.4,597.4 793.7,597.6 794.0,596.9 794.4,597.6 794.7,596.2 795.0,597.9 795.3,596.8 795.7,597.1 796.0,597.6 796.3,595.5 796.6,596.4 796.9,595.9 797.3,596.7 797.6,595.8 797.9,595.8 798.2,596.5 798.5,598.1 798.9,595.6 799.2,595.8 799.5,596.3 799.8,596.3 800.2,596.4 800.5,596.4 800.8,597.7 801.1,596.7 801.4,596.2 801.8,597.2 802.1,597.6 802.4,594.8 802.7,596.0 803.0,597.0 803.4,597.2 803.7,599.3 804.0,598.0 804.3,596.8 804.6,595.3 805.0,598.6 805.3,597.2 805.6,594.7 805.9,595.9 806.3,596.2 806.6,593.4 806.9,596.7 807.2,596.8 807.5,596.0 807.9,595.0 808.2,597.8 808.5,595.3 808.8,598.5 809.1,597.4 809.5,593.6 809.8,597.2 810.1,596.0 810.4,597.7 810.8,597.1 811.1,597.4 811.4,597.1 811.7,596.1 812.0,595.0 812.4,595.9 812.7,595.2 813.0,596.9 813.3,595.2 813.6,596.1 814.0,595.3 814.3,597.2 814.6,597.1 814.9,595.5 815.2,596.3 815.6,596.9 815.9,596.9 816.2,597.0 816.5,596.4 816.9,596.2 817.2,597.5 817.5,597.3 817.8,596.6 818.1,598.0 818.5,596.0 818.8,597.0 819.1,597.1 819.4,599.3 819.7,598.5 820.1,597.8 820.4,597.4 820.7,597.9 821.0,596.4 821.4,596.7 821.7,596.9 822.0,598.7 822.3,595.3 822.6,595.0 823.0,596.0 823.3,597.3 823.6,596.6 823.9,596.0 824.2,596.4 824.6,595.6 824.9,596.8 825.2,594.5 825.5,598.4 825.8,597.1 826.2,595.5 826.5,596.6 826.8,593.3 827.1,598.2 827.5,595.3 827.8,598.3 828.1,595.9 828.4,596.3 828.7,595.6 829.1,595.0 829.4,597.1 829.7,597.2 830.0,596.7 830.3,598.1 830.7,595.6 831.0,596.5 831.3,596.2 831.6,597.4 832.0,596.3 832.3,596.9 832.6,596.3 832.9,597.4 833.2,595.3 833.6,596.9 833.9,598.8 834.2,595.5 834.5,596.5 834.8,597.0 835.2,593.7 835.5,596.3 835.8,597.7 836.1,596.9 836.4,596.0 836.8,596.6 837.1,595.0 837.4,595.3 837.7,597.2 838.1,596.3 838.4,595.7 838.7,589.8 839.0,596.8 839.3,595.5 839.7,596.0 840.0,597.8 840.3,595.5 840.6,596.9 840.9,596.7 841.3,597.3 841.6,595.3 841.9,597.6 842.2,597.7 842.6,596.4 842.9,598.9 843.2,597.6 843.5,596.0 843.8,598.1 844.2,597.6 844.5,595.7 844.8,596.4 845.1,596.8 845.4,596.7 845.8,597.7 846.1,596.7 846.4,597.1 846.7,592.8 847.0,596.3 847.4,597.2 847.7,596.9 848.0,596.7 848.3,598.1 848.7,597.6 849.0,595.3 849.3,598.2 849.6,597.3 849.9,595.8 850.3,595.3 850.6,597.8 850.9,595.3 851.2,597.1 851.5,595.1 851.9,596.3 852.2,597.0 852.5,595.9 852.8,596.0 853.2,597.3 853.5,594.4 853.8,596.9 854.1,595.4 854.4,597.0 854.8,596.2 855.1,597.5 855.4,596.4 855.7,595.6 856.0,594.5 856.4,596.2 856.7,596.5 857.0,597.5 857.3,596.3 857.6,595.9 858.0,598.4 858.3,594.9 858.6,595.1 858.9,593.9 859.3,596.9 859.6,596.1 859.9,596.1 860.2,597.5 860.5,596.9 860.9,596.3 861.2,595.5 861.5,595.6 861.8,594.6 862.1,594.6 862.5,597.4 862.8,595.5 863.1,595.6 863.4,595.2 863.7,594.6 864.1,596.4 864.4,595.0 864.7,596.7 865.0,595.5 865.4,595.0 865.7,595.8 866.0,595.4 866.3,597.0 866.6,596.1 867.0,595.3 867.3,596.6 867.6,596.2 867.9,592.8 868.2,594.0 868.6,595.9 868.9,596.0 869.2,593.4 869.5,597.5 869.9,594.9 870.2,593.8 870.5,594.9 870.8,593.6 871.1,595.1 871.5,593.9 871.8,593.7 872.1,593.7 872.4,593.5 872.7,593.4 873.1,592.2 873.4,593.1 873.7,593.8 874.0,593.4 874.3,593.4 874.7,594.5 875.0,594.8 875.3,594.1 875.6,592.3 876.0,593.2 876.3,592.8 876.6,589.4 876.9,589.3 877.2,592.5 877.6,593.0 877.9,590.9 878.2,593.2 878.5,590.7 878.8,592.0 879.2,588.8 879.5,593.3 879.8,591.8 880.1,594.7 880.5,593.2 880.8,591.9 881.1,591.5 881.4,595.1 881.7,592.7 882.1,593.0 882.4,593.7 882.7,594.6 883.0,594.2 883.3,594.7 883.7,593.2 884.0,593.9 884.3,593.4 884.6,593.9 884.9,596.0 885.3,594.7 885.6,592.7 885.9,596.1 886.2,594.4 886.6,596.0 886.9,596.2 887.2,595.1 887.5,594.5 887.8,594.7 888.2,595.1 888.5,594.8 888.8,597.5 889.1,595.1 889.4,595.6 889.8,596.2 890.1,596.2 890.4,597.1 890.7,595.1 891.1,597.1 891.4,597.9 891.7,596.5 892.0,596.5 892.3,596.6 892.7,594.9 893.0,596.6 893.3,596.3 893.6,594.2 893.9,598.0 894.3,596.2 894.6,595.4 894.9,595.2 895.2,594.4 895.5,597.3 895.9,596.1 896.2,596.8 896.5,597.3 896.8,597.6 897.2,598.3 897.5,596.6 897.8,596.1 898.1,597.9 898.4,596.1 898.8,597.4 899.1,597.8 899.4,599.3 899.7,595.6 900.0,596.0 900.4,597.0 900.7,597.2 901.0,598.1 901.3,596.3 901.7,596.8 902.0,596.1 902.3,596.5 902.6,598.1 902.9,598.3 903.3,596.3 903.6,598.3 903.9,595.6 904.2,593.2 904.5,597.9 904.9,595.9 905.2,596.5 905.5,596.0 905.8,597.2 906.1,596.6 906.5,596.1 906.8,594.7 907.1,595.9 907.4,596.1 907.8,597.8 908.1,596.2 908.4,597.1 908.7,596.5 909.0,596.2 909.4,595.5 909.7,595.9 910.0,596.3 910.3,596.5 910.6,595.1 911.0,597.3 911.3,596.3 911.6,595.1 911.9,596.8 912.3,595.7 912.6,595.6 912.9,591.4 913.2,595.4 913.5,598.1 913.9,596.6 914.2,596.2 914.5,595.7 914.8,596.2 915.1,594.7 915.5,595.4 915.8,597.7 916.1,597.1 916.4,598.5 916.7,594.7 917.1,595.4 917.4,596.5 917.7,598.0 918.0,596.9 918.4,596.0 918.7,596.9 919.0,596.8 919.3,597.1 919.6,594.5 920.0,597.1 920.3,598.0 920.6,597.1 920.9,597.0 921.2,596.7 921.6,596.8 921.9,597.8 922.2,596.8 922.5,596.2 922.9,598.1 923.2,594.6 923.5,594.9 923.8,598.1 924.1,597.0 924.5,595.6 924.8,595.3 925.1,594.9 925.4,598.6 925.7,597.8 926.1,597.2 926.4,596.1 926.7,597.8 927.0,595.7 927.3,596.3 927.7,596.1 928.0,598.1 928.3,596.6 928.6,596.7 929.0,597.2 929.3,595.3 929.6,596.9 929.9,595.2 930.2,597.2 930.6,595.0 930.9,595.0 931.2,597.5 931.5,596.2 931.8,596.2 932.2,596.7 932.5,595.6 932.8,595.9 933.1,597.3 933.5,596.5 933.8,595.6 934.1,596.7 934.4,597.2 934.7,594.9 935.1,597.5 935.4,596.1 935.7,595.4 936.0,595.7 936.3,598.4 936.7,597.0 937.0,596.8 937.3,596.9 937.6,596.1 937.9,596.1 938.3,596.7 938.6,596.5 938.9,595.8 939.2,595.5 939.6,598.6 939.9,594.5 940.2,597.3 940.5,595.9 940.8,598.3 941.2,597.1 941.5,597.5 941.8,595.3 942.1,595.6 942.4,596.5 942.8,596.7 943.1,596.2 943.4,597.5 943.7,597.1 944.0,597.2 944.4,594.2 944.7,596.5 945.0,597.8 945.3,596.2 945.7,596.0 946.0,595.1 946.3,597.1 946.6,596.2 946.9,594.4 947.3,596.9 947.6,596.9 947.9,596.0 948.2,597.1 948.5,596.7 948.9,597.1 949.2,597.4 949.5,595.8 949.8,597.0 950.2,597.6 950.5,596.2 950.8,596.8 951.1,596.4 951.4,595.7 951.8,595.0 952.1,597.9 952.4,597.0 952.7,598.4 953.0,596.4 953.4,596.1 953.7,597.3 954.0,597.5 954.3,597.6 954.6,598.2 955.0,596.0 955.3,594.7 955.6,597.8 955.9,594.9 956.3,596.7 956.6,598.0 956.9,591.5 957.2,595.8 957.5,596.2 957.9,596.6 958.2,594.8 958.5,596.8 958.8,595.8 959.1,595.8 959.5,597.4 959.8,595.5 960.1,598.2 960.4,597.0 960.8,596.3 961.1,598.5 961.4,597.4 961.7,595.1 962.0,598.5 962.4,596.2 962.7,596.3 963.0,595.8 963.3,598.1 963.6,596.3 964.0,597.9 964.3,595.2 964.6,597.6 964.9,596.3 965.2,597.5 965.6,596.5 965.9,598.2 966.2,596.3 966.5,596.0 966.9,596.7 967.2,595.0 967.5,596.2 967.8,595.8 968.1,596.1 968.5,594.7 968.8,597.2 969.1,596.9 969.4,596.8 969.7,595.9"/>
<g stroke="#52b4ee" stroke-width="4.2" stroke-linecap="round"><line x1="189.6" y1="744.5" x2="189.6" y2="626.3"/><line x1="296.0" y1="744.5" x2="296.0" y2="655.1"/><line x1="354.8" y1="744.5" x2="354.8" y2="720.3"/><line x1="370.2" y1="744.5" x2="370.2" y2="741.5"/><line x1="423.4" y1="744.5" x2="423.4" y2="743.6"/><line x1="557.2" y1="744.5" x2="557.2" y2="680.7"/><line x1="600.6" y1="744.5" x2="600.6" y2="730.3"/><line x1="645.6" y1="744.5" x2="645.6" y2="737.5"/><line x1="705.0" y1="744.5" x2="705.0" y2="731.7"/><line x1="746.5" y1="744.5" x2="746.5" y2="731.7"/><line x1="764.1" y1="744.5" x2="764.1" y2="728.9"/><line x1="841.8" y1="744.5" x2="841.8" y2="738.6"/><line x1="950.5" y1="744.5" x2="950.5" y2="735.4"/></g>
<g stroke="#000" stroke-width="4.4" stroke-linecap="round"><line x1="233.9" y1="744.5" x2="233.9" y2="739.2"/><line x1="334.5" y1="744.5" x2="334.5" y2="626.3"/><line x1="420.6" y1="744.5" x2="420.6" y2="704.2"/><line x1="699.4" y1="744.5" x2="699.4" y2="713.8"/><line x1="877.5" y1="744.5" x2="877.5" y2="721.6"/><line x1="934.1" y1="744.5" x2="934.1" y2="740.2"/></g>
<rect x="79.1" y="4" width="905.6" height="740.8" fill="none" stroke="#000" stroke-width="3.6"/>
<g stroke="#000" stroke-width="3.4"><line x1="93.6" y1="746" x2="93.6" y2="760.5"/><line x1="166.6" y1="746" x2="166.6" y2="753"/><line x1="239.6" y1="746" x2="239.6" y2="760.5"/><line x1="312.6" y1="746" x2="312.6" y2="753"/><line x1="385.6" y1="746" x2="385.6" y2="760.5"/><line x1="458.6" y1="746" x2="458.6" y2="753"/><line x1="531.6" y1="746" x2="531.6" y2="760.5"/><line x1="604.6" y1="746" x2="604.6" y2="753"/><line x1="677.6" y1="746" x2="677.6" y2="760.5"/><line x1="750.6" y1="746" x2="750.6" y2="753"/><line x1="823.6" y1="746" x2="823.6" y2="760.5"/><line x1="896.6" y1="746" x2="896.6" y2="753"/><line x1="969.6" y1="746" x2="969.6" y2="760.5"/></g>
<g font-size="55.6" font-weight="bold" fill="#000"><text transform="translate(93.1,816.8) scale(1,1.04)" text-anchor="middle">20</text><text transform="translate(239.1,816.8) scale(1,1.04)" text-anchor="middle">30</text><text transform="translate(385.1,816.8) scale(1,1.04)" text-anchor="middle">40</text><text transform="translate(531.1,816.8) scale(1,1.04)" text-anchor="middle">50</text><text transform="translate(677.1,816.8) scale(1,1.04)" text-anchor="middle">60</text><text transform="translate(823.1,816.8) scale(1,1.04)" text-anchor="middle">70</text><text transform="translate(969.1,816.8) scale(1,1.04)" text-anchor="middle">80</text></g>
<g fill="#000">
<text transform="translate(468.1,877.9)" font-size="54.4">2</text>
<text transform="translate(497.1,877.7) scale(1.16,1)" font-size="51.7" font-family="Liberation Serif, serif">θ</text>
<text transform="translate(538.3,877.3) scale(1,0.944)" font-size="53.9">(°)</text>
</g>
<text transform="translate(40.3,373.8) rotate(-90)" font-size="52.3" text-anchor="middle" fill="#000">Normalized Intensity (a. u.)</text>
<g font-weight="bold" fill="#000">
<text transform="translate(239.1,199.6) rotate(-90)" x="-51.35 -35.40 -10.93 12.23 36.70" font-size="44" clip-path="url(#c110)">(110)</text>
<text transform="translate(340.1,61.8) rotate(-90)" x="-51.35 -35.40 -10.93 13.53 36.70" font-size="44" clip-path="url(#c111)">(111)</text>
<text transform="translate(429.7,196.7) rotate(-90)" x="-51.35 -36.70 -12.23 12.23 36.70" font-size="44">(200)</text>
<text transform="translate(710.9,196.4) rotate(-90)" x="-51.35 -36.70 -12.23 12.23 36.70" font-size="44">(220)</text>
<text transform="translate(887.7,156.0) rotate(-90)" x="-51.35 -36.70 -10.93 13.53 36.70" font-size="44" clip-path="url(#c311)">(311)</text>
</g>
<g font-size="51.9" font-weight="bold">
<text transform="translate(722.3,245.1) scale(1,1.035)" fill="#1b6cdd">-400 mV</text>
<text transform="translate(719.1,408.7) scale(1,1.035)" fill="#f54242">-350 mV</text>
<text transform="translate(722.3,569.7) scale(1,1.035)" fill="#555555">-300 mV</text>
</g>
<g font-size="35.9">
<text transform="translate(594.9,640.1) scale(1,1.03)" fill="#000">Cu<tspan font-size="25" dy="9.6">2</tspan><tspan dy="-9.6">O JCPDS: 05-0667</tspan></text>
<text transform="translate(594.9,692.2) scale(1,1.03)" fill="#52b4ee" clip-path="url(#csn)">SnO<tspan font-size="25" dy="9.6">2</tspan><tspan dy="-9.6"> JCPDS: 041-1445</tspan></text>
</g>
<defs><clipPath id="csn" clipPathUnits="userSpaceOnUse"><path clip-rule="evenodd" d="M-2000,-2000H2000V2000H-2000ZM274.93,-3.59H282.29V2.87H274.93ZM285.48,-3.59H292.56V2.87H285.48ZM306.84,-3.59H314.20V2.87H306.84ZM317.40,-3.59H324.47V2.87H317.40Z"/></clipPath><clipPath id="c110" clipPathUnits="userSpaceOnUse"><path clip-rule="evenodd" d="M-2000,-2000H2000V2000H-2000ZM-33.94,-5.72H-25.14V3.52H-33.94ZM-19.07,-5.72H-10.84V3.52H-19.07ZM-9.48,-5.72H-0.68V3.52H-9.48ZM5.39,-5.72H13.62V3.52H5.39Z"/></clipPath><clipPath id="c111" clipPathUnits="userSpaceOnUse"><path clip-rule="evenodd" d="M-2000,-2000H2000V2000H-2000ZM-33.94,-5.72H-25.14V3.52H-33.94ZM-19.07,-5.72H-10.84V3.52H-19.07ZM-9.48,-5.72H-0.68V3.52H-9.48ZM5.39,-5.72H13.62V3.52H5.39ZM14.98,-5.72H23.78V3.52H14.98ZM29.86,-5.72H38.08V3.52H29.86Z"/></clipPath><clipPath id="c311" clipPathUnits="userSpaceOnUse"><path clip-rule="evenodd" d="M-2000,-2000H2000V2000H-2000ZM-9.48,-5.72H-0.68V3.52H-9.48ZM5.39,-5.72H13.62V3.52H5.39ZM14.98,-5.72H23.78V3.52H14.98ZM29.86,-5.72H38.08V3.52H29.86Z"/></clipPath></defs>
</svg>
</body></html>
